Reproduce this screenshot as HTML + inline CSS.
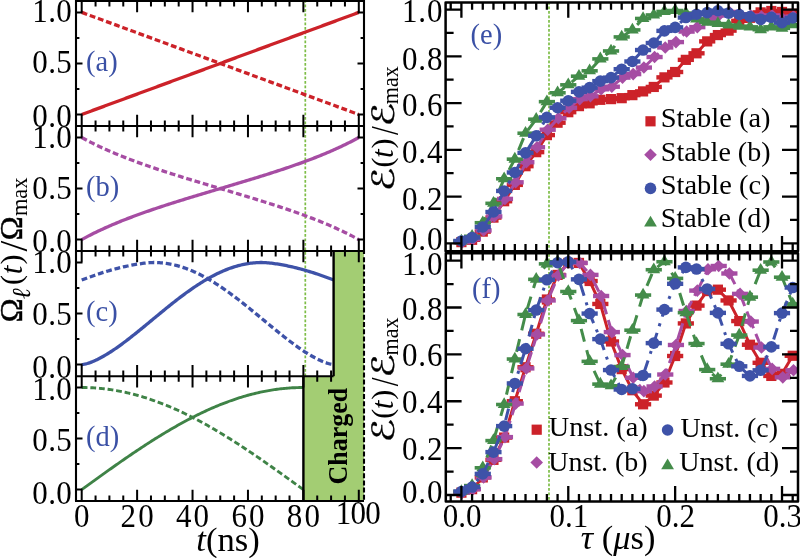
<!DOCTYPE html>
<html><head><meta charset="utf-8"><title>Charging figure</title>
<style>html,body{margin:0;padding:0;background:#fff}svg{display:block}svg text{font-family:"Liberation Serif",serif}</style>
</head><body>
<svg width="800" height="558" viewBox="0 0 800 558">
<rect width="800" height="558" fill="#fff"/>
<path d="M333.6,251.0 L364.0,251.0 L364.0,501.0 L303.4,501.0 L303.4,376.2 L333.6,376.2 Z" fill="#A3CD73"/>
<line x1="305.3" y1="0" x2="305.3" y2="376.2" stroke="#7DBD46" stroke-width="1.7" stroke-dasharray="2.8 1.7"/>
<path d="M81.70,114.50 L83.09,113.99 L84.47,113.48 L85.86,112.97 L87.24,112.46 L88.63,111.95 L90.01,111.44 L91.40,110.93 L92.78,110.42 L94.17,109.91 L95.56,109.39 L96.94,108.88 L98.33,108.37 L99.71,107.86 L101.10,107.35 L102.48,106.84 L103.87,106.33 L105.25,105.82 L106.64,105.31 L108.02,104.80 L109.41,104.29 L110.80,103.78 L112.18,103.27 L113.57,102.76 L114.95,102.25 L116.34,101.74 L117.72,101.23 L119.11,100.72 L120.49,100.21 L121.88,99.70 L123.27,99.19 L124.65,98.67 L126.04,98.16 L127.42,97.65 L128.81,97.14 L130.19,96.63 L131.58,96.12 L132.96,95.61 L134.35,95.10 L135.73,94.59 L137.12,94.08 L138.51,93.57 L139.89,93.06 L141.28,92.55 L142.66,92.04 L144.05,91.53 L145.43,91.02 L146.82,90.51 L148.20,90.00 L149.59,89.49 L150.97,88.97 L152.36,88.46 L153.75,87.95 L155.13,87.44 L156.52,86.93 L157.90,86.42 L159.29,85.91 L160.67,85.40 L162.06,84.89 L163.44,84.38 L164.83,83.87 L166.22,83.36 L167.60,82.85 L168.99,82.34 L170.37,81.83 L171.76,81.32 L173.14,80.81 L174.53,80.30 L175.91,79.79 L177.30,79.28 L178.69,78.77 L180.07,78.25 L181.46,77.74 L182.84,77.23 L184.23,76.72 L185.61,76.21 L187.00,75.70 L188.38,75.19 L189.77,74.68 L191.15,74.17 L192.54,73.66 L193.93,73.15 L195.31,72.64 L196.70,72.13 L198.08,71.62 L199.47,71.11 L200.85,70.60 L202.24,70.09 L203.62,69.58 L205.01,69.07 L206.39,68.56 L207.78,68.04 L209.17,67.53 L210.55,67.02 L211.94,66.51 L213.32,66.00 L214.71,65.49 L216.09,64.98 L217.48,64.47 L218.86,63.96 L220.25,63.45 L221.64,62.94 L223.02,62.43 L224.41,61.92 L225.79,61.41 L227.18,60.90 L228.56,60.39 L229.95,59.88 L231.33,59.37 L232.72,58.86 L234.11,58.34 L235.49,57.83 L236.88,57.32 L238.26,56.81 L239.65,56.30 L241.03,55.79 L242.42,55.28 L243.80,54.77 L245.19,54.26 L246.57,53.75 L247.96,53.24 L249.35,52.73 L250.73,52.22 L252.12,51.71 L253.50,51.20 L254.89,50.69 L256.27,50.18 L257.66,49.67 L259.04,49.16 L260.43,48.65 L261.81,48.13 L263.20,47.62 L264.59,47.11 L265.97,46.60 L267.36,46.09 L268.74,45.58 L270.13,45.07 L271.51,44.56 L272.90,44.05 L274.28,43.54 L275.67,43.03 L277.06,42.52 L278.44,42.01 L279.83,41.50 L281.21,40.99 L282.60,40.48 L283.98,39.97 L285.37,39.46 L286.75,38.95 L288.14,38.44 L289.52,37.92 L290.91,37.41 L292.30,36.90 L293.68,36.39 L295.07,35.88 L296.45,35.37 L297.84,34.86 L299.22,34.35 L300.61,33.84 L301.99,33.33 L303.38,32.82 L304.77,32.31 L306.15,31.80 L307.54,31.29 L308.92,30.78 L310.31,30.27 L311.69,29.76 L313.08,29.25 L314.46,28.74 L315.85,28.23 L317.24,27.72 L318.62,27.20 L320.01,26.69 L321.39,26.18 L322.78,25.67 L324.16,25.16 L325.55,24.65 L326.93,24.14 L328.32,23.63 L329.70,23.12 L331.09,22.61 L332.48,22.10 L333.86,21.59 L335.25,21.08 L336.63,20.57 L338.02,20.06 L339.40,19.55 L340.79,19.04 L342.17,18.53 L343.56,18.02 L344.94,17.51 L346.33,16.99 L347.72,16.48 L349.10,15.97 L350.49,15.46 L351.87,14.95 L353.26,14.44 L354.64,13.93 L356.03,13.42 L357.41,12.91 L358.80,12.40" fill="none" stroke="#CC2229" stroke-width="3.3" stroke-linejoin="round"/>
<path d="M81.70,12.40 L83.09,12.91 L84.47,13.42 L85.86,13.93 L87.24,14.44 L88.63,14.95 L90.01,15.46 L91.40,15.97 L92.78,16.48 L94.17,16.99 L95.56,17.51 L96.94,18.02 L98.33,18.53 L99.71,19.04 L101.10,19.55 L102.48,20.06 L103.87,20.57 L105.25,21.08 L106.64,21.59 L108.02,22.10 L109.41,22.61 L110.80,23.12 L112.18,23.63 L113.57,24.14 L114.95,24.65 L116.34,25.16 L117.72,25.67 L119.11,26.18 L120.49,26.69 L121.88,27.20 L123.27,27.72 L124.65,28.23 L126.04,28.74 L127.42,29.25 L128.81,29.76 L130.19,30.27 L131.58,30.78 L132.96,31.29 L134.35,31.80 L135.73,32.31 L137.12,32.82 L138.51,33.33 L139.89,33.84 L141.28,34.35 L142.66,34.86 L144.05,35.37 L145.43,35.88 L146.82,36.39 L148.20,36.90 L149.59,37.41 L150.97,37.92 L152.36,38.44 L153.75,38.95 L155.13,39.46 L156.52,39.97 L157.90,40.48 L159.29,40.99 L160.67,41.50 L162.06,42.01 L163.44,42.52 L164.83,43.03 L166.22,43.54 L167.60,44.05 L168.99,44.56 L170.37,45.07 L171.76,45.58 L173.14,46.09 L174.53,46.60 L175.91,47.11 L177.30,47.62 L178.69,48.13 L180.07,48.65 L181.46,49.16 L182.84,49.67 L184.23,50.18 L185.61,50.69 L187.00,51.20 L188.38,51.71 L189.77,52.22 L191.15,52.73 L192.54,53.24 L193.93,53.75 L195.31,54.26 L196.70,54.77 L198.08,55.28 L199.47,55.79 L200.85,56.30 L202.24,56.81 L203.62,57.32 L205.01,57.83 L206.39,58.34 L207.78,58.86 L209.17,59.37 L210.55,59.88 L211.94,60.39 L213.32,60.90 L214.71,61.41 L216.09,61.92 L217.48,62.43 L218.86,62.94 L220.25,63.45 L221.64,63.96 L223.02,64.47 L224.41,64.98 L225.79,65.49 L227.18,66.00 L228.56,66.51 L229.95,67.02 L231.33,67.53 L232.72,68.04 L234.11,68.56 L235.49,69.07 L236.88,69.58 L238.26,70.09 L239.65,70.60 L241.03,71.11 L242.42,71.62 L243.80,72.13 L245.19,72.64 L246.57,73.15 L247.96,73.66 L249.35,74.17 L250.73,74.68 L252.12,75.19 L253.50,75.70 L254.89,76.21 L256.27,76.72 L257.66,77.23 L259.04,77.74 L260.43,78.25 L261.81,78.77 L263.20,79.28 L264.59,79.79 L265.97,80.30 L267.36,80.81 L268.74,81.32 L270.13,81.83 L271.51,82.34 L272.90,82.85 L274.28,83.36 L275.67,83.87 L277.06,84.38 L278.44,84.89 L279.83,85.40 L281.21,85.91 L282.60,86.42 L283.98,86.93 L285.37,87.44 L286.75,87.95 L288.14,88.46 L289.52,88.97 L290.91,89.49 L292.30,90.00 L293.68,90.51 L295.07,91.02 L296.45,91.53 L297.84,92.04 L299.22,92.55 L300.61,93.06 L301.99,93.57 L303.38,94.08 L304.77,94.59 L306.15,95.10 L307.54,95.61 L308.92,96.12 L310.31,96.63 L311.69,97.14 L313.08,97.65 L314.46,98.16 L315.85,98.67 L317.24,99.19 L318.62,99.70 L320.01,100.21 L321.39,100.72 L322.78,101.23 L324.16,101.74 L325.55,102.25 L326.93,102.76 L328.32,103.27 L329.70,103.78 L331.09,104.29 L332.48,104.80 L333.86,105.31 L335.25,105.82 L336.63,106.33 L338.02,106.84 L339.40,107.35 L340.79,107.86 L342.17,108.37 L343.56,108.88 L344.94,109.39 L346.33,109.91 L347.72,110.42 L349.10,110.93 L350.49,111.44 L351.87,111.95 L353.26,112.46 L354.64,112.97 L356.03,113.48 L357.41,113.99 L358.80,114.50" fill="none" stroke="#CC2229" stroke-width="3.3" stroke-dasharray="5.8 2.85" stroke-linejoin="round"/>
<path d="M81.70,239.60 L83.09,238.84 L84.47,238.09 L85.86,237.34 L87.24,236.61 L88.63,235.89 L90.01,235.18 L91.40,234.47 L92.78,233.78 L94.17,233.09 L95.56,232.41 L96.94,231.74 L98.33,231.08 L99.71,230.42 L101.10,229.78 L102.48,229.14 L103.87,228.50 L105.25,227.88 L106.64,227.26 L108.02,226.65 L109.41,226.04 L110.80,225.44 L112.18,224.85 L113.57,224.26 L114.95,223.67 L116.34,223.10 L117.72,222.53 L119.11,221.96 L120.49,221.40 L121.88,220.84 L123.27,220.29 L124.65,219.74 L126.04,219.20 L127.42,218.66 L128.81,218.13 L130.19,217.60 L131.58,217.08 L132.96,216.56 L134.35,216.04 L135.73,215.53 L137.12,215.02 L138.51,214.52 L139.89,214.01 L141.28,213.52 L142.66,213.02 L144.05,212.53 L145.43,212.04 L146.82,211.56 L148.20,211.08 L149.59,210.60 L150.97,210.12 L152.36,209.65 L153.75,209.18 L155.13,208.71 L156.52,208.24 L157.90,207.78 L159.29,207.32 L160.67,206.86 L162.06,206.41 L163.44,205.95 L164.83,205.50 L166.22,205.05 L167.60,204.60 L168.99,204.16 L170.37,203.72 L171.76,203.27 L173.14,202.83 L174.53,202.40 L175.91,201.96 L177.30,201.53 L178.69,201.09 L180.07,200.66 L181.46,200.23 L182.84,199.80 L184.23,199.37 L185.61,198.95 L187.00,198.52 L188.38,198.10 L189.77,197.67 L191.15,197.25 L192.54,196.83 L193.93,196.41 L195.31,195.99 L196.70,195.57 L198.08,195.16 L199.47,194.74 L200.85,194.33 L202.24,193.91 L203.62,193.50 L205.01,193.08 L206.39,192.67 L207.78,192.25 L209.17,191.84 L210.55,191.43 L211.94,191.02 L213.32,190.61 L214.71,190.19 L216.09,189.78 L217.48,189.37 L218.86,188.96 L220.25,188.55 L221.64,188.14 L223.02,187.73 L224.41,187.32 L225.79,186.91 L227.18,186.49 L228.56,186.08 L229.95,185.67 L231.33,185.26 L232.72,184.85 L234.11,184.43 L235.49,184.02 L236.88,183.60 L238.26,183.19 L239.65,182.77 L241.03,182.36 L242.42,181.94 L243.80,181.53 L245.19,181.11 L246.57,180.69 L247.96,180.27 L249.35,179.85 L250.73,179.43 L252.12,179.00 L253.50,178.58 L254.89,178.15 L256.27,177.73 L257.66,177.30 L259.04,176.87 L260.43,176.44 L261.81,176.01 L263.20,175.57 L264.59,175.14 L265.97,174.70 L267.36,174.27 L268.74,173.83 L270.13,173.38 L271.51,172.94 L272.90,172.50 L274.28,172.05 L275.67,171.60 L277.06,171.15 L278.44,170.69 L279.83,170.24 L281.21,169.78 L282.60,169.32 L283.98,168.86 L285.37,168.39 L286.75,167.92 L288.14,167.45 L289.52,166.98 L290.91,166.50 L292.30,166.02 L293.68,165.54 L295.07,165.06 L296.45,164.57 L297.84,164.08 L299.22,163.58 L300.61,163.09 L301.99,162.58 L303.38,162.08 L304.77,161.57 L306.15,161.06 L307.54,160.54 L308.92,160.02 L310.31,159.50 L311.69,158.97 L313.08,158.44 L314.46,157.90 L315.85,157.36 L317.24,156.81 L318.62,156.26 L320.01,155.70 L321.39,155.14 L322.78,154.57 L324.16,154.00 L325.55,153.43 L326.93,152.84 L328.32,152.25 L329.70,151.66 L331.09,151.06 L332.48,150.45 L333.86,149.84 L335.25,149.22 L336.63,148.60 L338.02,147.96 L339.40,147.32 L340.79,146.68 L342.17,146.02 L343.56,145.36 L344.94,144.69 L346.33,144.01 L347.72,143.32 L349.10,142.63 L350.49,141.92 L351.87,141.21 L353.26,140.49 L354.64,139.76 L356.03,139.01 L357.41,138.26 L358.80,137.50" fill="none" stroke="#A64DA3" stroke-width="3.3" stroke-linejoin="round"/>
<path d="M81.70,137.50 L83.09,138.26 L84.47,139.01 L85.86,139.76 L87.24,140.49 L88.63,141.21 L90.01,141.92 L91.40,142.63 L92.78,143.32 L94.17,144.01 L95.56,144.69 L96.94,145.36 L98.33,146.02 L99.71,146.68 L101.10,147.32 L102.48,147.96 L103.87,148.60 L105.25,149.22 L106.64,149.84 L108.02,150.45 L109.41,151.06 L110.80,151.66 L112.18,152.25 L113.57,152.84 L114.95,153.43 L116.34,154.00 L117.72,154.57 L119.11,155.14 L120.49,155.70 L121.88,156.26 L123.27,156.81 L124.65,157.36 L126.04,157.90 L127.42,158.44 L128.81,158.97 L130.19,159.50 L131.58,160.02 L132.96,160.54 L134.35,161.06 L135.73,161.57 L137.12,162.08 L138.51,162.58 L139.89,163.09 L141.28,163.58 L142.66,164.08 L144.05,164.57 L145.43,165.06 L146.82,165.54 L148.20,166.02 L149.59,166.50 L150.97,166.98 L152.36,167.45 L153.75,167.92 L155.13,168.39 L156.52,168.86 L157.90,169.32 L159.29,169.78 L160.67,170.24 L162.06,170.69 L163.44,171.15 L164.83,171.60 L166.22,172.05 L167.60,172.50 L168.99,172.94 L170.37,173.38 L171.76,173.83 L173.14,174.27 L174.53,174.70 L175.91,175.14 L177.30,175.57 L178.69,176.01 L180.07,176.44 L181.46,176.87 L182.84,177.30 L184.23,177.73 L185.61,178.15 L187.00,178.58 L188.38,179.00 L189.77,179.43 L191.15,179.85 L192.54,180.27 L193.93,180.69 L195.31,181.11 L196.70,181.53 L198.08,181.94 L199.47,182.36 L200.85,182.77 L202.24,183.19 L203.62,183.60 L205.01,184.02 L206.39,184.43 L207.78,184.85 L209.17,185.26 L210.55,185.67 L211.94,186.08 L213.32,186.49 L214.71,186.91 L216.09,187.32 L217.48,187.73 L218.86,188.14 L220.25,188.55 L221.64,188.96 L223.02,189.37 L224.41,189.78 L225.79,190.19 L227.18,190.61 L228.56,191.02 L229.95,191.43 L231.33,191.84 L232.72,192.25 L234.11,192.67 L235.49,193.08 L236.88,193.50 L238.26,193.91 L239.65,194.33 L241.03,194.74 L242.42,195.16 L243.80,195.57 L245.19,195.99 L246.57,196.41 L247.96,196.83 L249.35,197.25 L250.73,197.67 L252.12,198.10 L253.50,198.52 L254.89,198.95 L256.27,199.37 L257.66,199.80 L259.04,200.23 L260.43,200.66 L261.81,201.09 L263.20,201.53 L264.59,201.96 L265.97,202.40 L267.36,202.83 L268.74,203.27 L270.13,203.72 L271.51,204.16 L272.90,204.60 L274.28,205.05 L275.67,205.50 L277.06,205.95 L278.44,206.41 L279.83,206.86 L281.21,207.32 L282.60,207.78 L283.98,208.24 L285.37,208.71 L286.75,209.18 L288.14,209.65 L289.52,210.12 L290.91,210.60 L292.30,211.08 L293.68,211.56 L295.07,212.04 L296.45,212.53 L297.84,213.02 L299.22,213.52 L300.61,214.01 L301.99,214.52 L303.38,215.02 L304.77,215.53 L306.15,216.04 L307.54,216.56 L308.92,217.08 L310.31,217.60 L311.69,218.13 L313.08,218.66 L314.46,219.20 L315.85,219.74 L317.24,220.29 L318.62,220.84 L320.01,221.40 L321.39,221.96 L322.78,222.53 L324.16,223.10 L325.55,223.67 L326.93,224.26 L328.32,224.85 L329.70,225.44 L331.09,226.04 L332.48,226.65 L333.86,227.26 L335.25,227.88 L336.63,228.50 L338.02,229.14 L339.40,229.78 L340.79,230.42 L342.17,231.08 L343.56,231.74 L344.94,232.41 L346.33,233.09 L347.72,233.78 L349.10,234.47 L350.49,235.18 L351.87,235.89 L353.26,236.61 L354.64,237.34 L356.03,238.09 L357.41,238.84 L358.80,239.60" fill="none" stroke="#A64DA3" stroke-width="3.3" stroke-dasharray="5.8 2.85" stroke-linejoin="round"/>
<path d="M81.70,364.60 L83.09,364.46 L84.47,364.22 L85.86,363.90 L87.24,363.52 L88.63,363.09 L90.01,362.61 L91.40,362.09 L92.78,361.54 L94.17,360.95 L95.56,360.33 L96.94,359.67 L98.33,358.99 L99.71,358.28 L101.10,357.55 L102.48,356.79 L103.87,356.00 L105.25,355.19 L106.64,354.37 L108.02,353.52 L109.41,352.65 L110.80,351.76 L112.18,350.85 L113.57,349.93 L114.95,348.99 L116.34,348.03 L117.72,347.06 L119.11,346.08 L120.49,345.08 L121.88,344.06 L123.27,343.04 L124.65,342.00 L126.04,340.96 L127.42,339.90 L128.81,338.83 L130.19,337.76 L131.58,336.67 L132.96,335.58 L134.35,334.48 L135.73,333.37 L137.12,332.25 L138.51,331.13 L139.89,330.01 L141.28,328.88 L142.66,327.75 L144.05,326.61 L145.43,325.47 L146.82,324.32 L148.20,323.18 L149.59,322.03 L150.97,320.89 L152.36,319.74 L153.75,318.59 L155.13,317.44 L156.52,316.30 L157.90,315.15 L159.29,314.01 L160.67,312.87 L162.06,311.73 L163.44,310.60 L164.83,309.47 L166.22,308.34 L167.60,307.22 L168.99,306.10 L170.37,304.99 L171.76,303.89 L173.14,302.79 L174.53,301.70 L175.91,300.62 L177.30,299.55 L178.69,298.48 L180.07,297.42 L181.46,296.38 L182.84,295.34 L184.23,294.31 L185.61,293.29 L187.00,292.28 L188.38,291.29 L189.77,290.30 L191.15,289.33 L192.54,288.37 L193.93,287.43 L195.31,286.49 L196.70,285.57 L198.08,284.66 L199.47,283.77 L200.85,282.89 L202.24,282.03 L203.62,281.18 L205.01,280.35 L206.39,279.53 L207.78,278.73 L209.17,277.94 L210.55,277.18 L211.94,276.42 L213.32,275.69 L214.71,274.97 L216.09,274.28 L217.48,273.60 L218.86,272.93 L220.25,272.29 L221.64,271.66 L223.02,271.06 L224.41,270.47 L225.79,269.90 L227.18,269.36 L228.56,268.83 L229.95,268.32 L231.33,267.83 L232.72,267.36 L234.11,266.92 L235.49,266.49 L236.88,266.09 L238.26,265.70 L239.65,265.34 L241.03,265.00 L242.42,264.68 L243.80,264.38 L245.19,264.10 L246.57,263.85 L247.96,263.61 L249.35,263.40 L250.73,263.21 L252.12,263.05 L253.50,262.90 L254.89,262.78 L256.27,262.68 L257.66,262.60 L259.04,262.54 L260.43,262.51 L261.81,262.50 L263.20,262.53 L264.59,262.60 L265.97,262.68 L267.36,262.79 L268.74,262.91 L270.13,263.05 L271.51,263.21 L272.90,263.38 L274.28,263.56 L275.67,263.76 L277.06,263.96 L278.44,264.18 L279.83,264.41 L281.21,264.65 L282.60,264.90 L283.98,265.16 L285.37,265.44 L286.75,265.72 L288.14,266.01 L289.52,266.31 L290.91,266.62 L292.30,266.93 L293.68,267.26 L295.07,267.60 L296.45,267.94 L297.84,268.29 L299.22,268.65 L300.61,269.02 L301.99,269.40 L303.38,269.78 L304.77,270.18 L306.15,270.58 L307.54,270.98 L308.92,271.40 L310.31,271.82 L311.69,272.25 L313.08,272.69 L314.46,273.13 L315.85,273.58 L317.24,274.04 L318.62,274.51 L320.01,274.98 L321.39,275.46 L322.78,275.94 L324.16,276.43 L325.55,276.93 L326.93,277.44 L328.32,277.95 L329.70,278.47 L331.09,278.99 L332.48,279.52 L333.86,280.06" fill="none" stroke="#3E52A8" stroke-width="3.3" stroke-linejoin="round"/>
<path d="M81.70,280.06 L83.09,279.52 L84.47,278.99 L85.86,278.47 L87.24,277.95 L88.63,277.44 L90.01,276.93 L91.40,276.43 L92.78,275.94 L94.17,275.46 L95.56,274.98 L96.94,274.51 L98.33,274.04 L99.71,273.58 L101.10,273.13 L102.48,272.69 L103.87,272.25 L105.25,271.82 L106.64,271.40 L108.02,270.98 L109.41,270.58 L110.80,270.18 L112.18,269.78 L113.57,269.40 L114.95,269.02 L116.34,268.65 L117.72,268.29 L119.11,267.94 L120.49,267.60 L121.88,267.26 L123.27,266.93 L124.65,266.62 L126.04,266.31 L127.42,266.01 L128.81,265.72 L130.19,265.44 L131.58,265.16 L132.96,264.90 L134.35,264.65 L135.73,264.41 L137.12,264.18 L138.51,263.96 L139.89,263.76 L141.28,263.56 L142.66,263.38 L144.05,263.21 L145.43,263.05 L146.82,262.91 L148.20,262.79 L149.59,262.68 L150.97,262.60 L152.36,262.53 L153.75,262.50 L155.13,262.51 L156.52,262.54 L157.90,262.60 L159.29,262.68 L160.67,262.78 L162.06,262.90 L163.44,263.05 L164.83,263.21 L166.22,263.40 L167.60,263.61 L168.99,263.85 L170.37,264.10 L171.76,264.38 L173.14,264.68 L174.53,265.00 L175.91,265.34 L177.30,265.70 L178.69,266.09 L180.07,266.49 L181.46,266.92 L182.84,267.36 L184.23,267.83 L185.61,268.32 L187.00,268.83 L188.38,269.36 L189.77,269.90 L191.15,270.47 L192.54,271.06 L193.93,271.66 L195.31,272.29 L196.70,272.93 L198.08,273.60 L199.47,274.28 L200.85,274.97 L202.24,275.69 L203.62,276.42 L205.01,277.18 L206.39,277.94 L207.78,278.73 L209.17,279.53 L210.55,280.35 L211.94,281.18 L213.32,282.03 L214.71,282.89 L216.09,283.77 L217.48,284.66 L218.86,285.57 L220.25,286.49 L221.64,287.43 L223.02,288.37 L224.41,289.33 L225.79,290.30 L227.18,291.29 L228.56,292.28 L229.95,293.29 L231.33,294.31 L232.72,295.34 L234.11,296.38 L235.49,297.42 L236.88,298.48 L238.26,299.55 L239.65,300.62 L241.03,301.70 L242.42,302.79 L243.80,303.89 L245.19,304.99 L246.57,306.10 L247.96,307.22 L249.35,308.34 L250.73,309.47 L252.12,310.60 L253.50,311.73 L254.89,312.87 L256.27,314.01 L257.66,315.15 L259.04,316.30 L260.43,317.44 L261.81,318.59 L263.20,319.74 L264.59,320.89 L265.97,322.03 L267.36,323.18 L268.74,324.32 L270.13,325.47 L271.51,326.61 L272.90,327.75 L274.28,328.88 L275.67,330.01 L277.06,331.13 L278.44,332.25 L279.83,333.37 L281.21,334.48 L282.60,335.58 L283.98,336.67 L285.37,337.76 L286.75,338.83 L288.14,339.90 L289.52,340.96 L290.91,342.00 L292.30,343.04 L293.68,344.06 L295.07,345.08 L296.45,346.08 L297.84,347.06 L299.22,348.03 L300.61,348.99 L301.99,349.93 L303.38,350.85 L304.77,351.76 L306.15,352.65 L307.54,353.52 L308.92,354.37 L310.31,355.19 L311.69,356.00 L313.08,356.79 L314.46,357.55 L315.85,358.28 L317.24,358.99 L318.62,359.67 L320.01,360.33 L321.39,360.95 L322.78,361.54 L324.16,362.09 L325.55,362.61 L326.93,363.09 L328.32,363.52 L329.70,363.90 L331.09,364.22 L332.48,364.46 L333.86,364.60" fill="none" stroke="#3E52A8" stroke-width="3.3" stroke-dasharray="5.8 2.85" stroke-linejoin="round"/>
<path d="M81.70,489.60 L83.09,488.60 L84.47,487.60 L85.86,486.59 L87.24,485.59 L88.63,484.59 L90.01,483.59 L91.40,482.59 L92.78,481.59 L94.17,480.59 L95.56,479.59 L96.94,478.60 L98.33,477.60 L99.71,476.60 L101.10,475.61 L102.48,474.62 L103.87,473.63 L105.25,472.64 L106.64,471.65 L108.02,470.67 L109.41,469.68 L110.80,468.70 L112.18,467.72 L113.57,466.74 L114.95,465.77 L116.34,464.79 L117.72,463.82 L119.11,462.85 L120.49,461.89 L121.88,460.92 L123.27,459.96 L124.65,459.00 L126.04,458.05 L127.42,457.10 L128.81,456.15 L130.19,455.20 L131.58,454.26 L132.96,453.32 L134.35,452.39 L135.73,451.46 L137.12,450.53 L138.51,449.60 L139.89,448.68 L141.28,447.77 L142.66,446.85 L144.05,445.95 L145.43,445.04 L146.82,444.14 L148.20,443.25 L149.59,442.36 L150.97,441.47 L152.36,440.59 L153.75,439.71 L155.13,438.84 L156.52,437.97 L157.90,437.11 L159.29,436.25 L160.67,435.40 L162.06,434.55 L163.44,433.71 L164.83,432.88 L166.22,432.05 L167.60,431.22 L168.99,430.40 L170.37,429.59 L171.76,428.78 L173.14,427.98 L174.53,427.18 L175.91,426.39 L177.30,425.61 L178.69,424.83 L180.07,424.06 L181.46,423.29 L182.84,422.53 L184.23,421.78 L185.61,421.03 L187.00,420.29 L188.38,419.56 L189.77,418.84 L191.15,418.12 L192.54,417.40 L193.93,416.70 L195.31,416.00 L196.70,415.31 L198.08,414.63 L199.47,413.95 L200.85,413.28 L202.24,412.62 L203.62,411.96 L205.01,411.32 L206.39,410.68 L207.78,410.04 L209.17,409.42 L210.55,408.80 L211.94,408.19 L213.32,407.59 L214.71,407.00 L216.09,406.41 L217.48,405.84 L218.86,405.27 L220.25,404.71 L221.64,404.15 L223.02,403.61 L224.41,403.07 L225.79,402.55 L227.18,402.03 L228.56,401.51 L229.95,401.01 L231.33,400.52 L232.72,400.03 L234.11,399.56 L235.49,399.09 L236.88,398.63 L238.26,398.18 L239.65,397.74 L241.03,397.30 L242.42,396.88 L243.80,396.46 L245.19,396.06 L246.57,395.66 L247.96,395.27 L249.35,394.89 L250.73,394.52 L252.12,394.16 L253.50,393.81 L254.89,393.47 L256.27,393.14 L257.66,392.81 L259.04,392.50 L260.43,392.19 L261.81,391.90 L263.20,391.61 L264.59,391.33 L265.97,391.07 L267.36,390.81 L268.74,390.56 L270.13,390.32 L271.51,390.09 L272.90,389.87 L274.28,389.66 L275.67,389.46 L277.06,389.27 L278.44,389.09 L279.83,388.92 L281.21,388.76 L282.60,388.61 L283.98,388.46 L285.37,388.33 L286.75,388.21 L288.14,388.09 L289.52,387.99 L290.91,387.90 L292.30,387.81 L293.68,387.74 L295.07,387.68 L296.45,387.62 L297.84,387.58 L299.22,387.54 L300.61,387.52 L301.99,387.50 L303.38,387.50" fill="none" stroke="#3F8347" stroke-width="2.9" stroke-linejoin="round"/>
<path d="M81.70,387.50 L83.09,387.50 L84.47,387.52 L85.86,387.54 L87.24,387.58 L88.63,387.62 L90.01,387.68 L91.40,387.74 L92.78,387.81 L94.17,387.90 L95.56,387.99 L96.94,388.09 L98.33,388.21 L99.71,388.33 L101.10,388.46 L102.48,388.61 L103.87,388.76 L105.25,388.92 L106.64,389.09 L108.02,389.27 L109.41,389.46 L110.80,389.66 L112.18,389.87 L113.57,390.09 L114.95,390.32 L116.34,390.56 L117.72,390.81 L119.11,391.07 L120.49,391.33 L121.88,391.61 L123.27,391.90 L124.65,392.19 L126.04,392.50 L127.42,392.81 L128.81,393.14 L130.19,393.47 L131.58,393.81 L132.96,394.16 L134.35,394.52 L135.73,394.89 L137.12,395.27 L138.51,395.66 L139.89,396.06 L141.28,396.46 L142.66,396.88 L144.05,397.30 L145.43,397.74 L146.82,398.18 L148.20,398.63 L149.59,399.09 L150.97,399.56 L152.36,400.03 L153.75,400.52 L155.13,401.01 L156.52,401.51 L157.90,402.03 L159.29,402.55 L160.67,403.07 L162.06,403.61 L163.44,404.15 L164.83,404.71 L166.22,405.27 L167.60,405.84 L168.99,406.41 L170.37,407.00 L171.76,407.59 L173.14,408.19 L174.53,408.80 L175.91,409.42 L177.30,410.04 L178.69,410.68 L180.07,411.32 L181.46,411.96 L182.84,412.62 L184.23,413.28 L185.61,413.95 L187.00,414.63 L188.38,415.31 L189.77,416.00 L191.15,416.70 L192.54,417.40 L193.93,418.12 L195.31,418.84 L196.70,419.56 L198.08,420.29 L199.47,421.03 L200.85,421.78 L202.24,422.53 L203.62,423.29 L205.01,424.06 L206.39,424.83 L207.78,425.61 L209.17,426.39 L210.55,427.18 L211.94,427.98 L213.32,428.78 L214.71,429.59 L216.09,430.40 L217.48,431.22 L218.86,432.05 L220.25,432.88 L221.64,433.71 L223.02,434.55 L224.41,435.40 L225.79,436.25 L227.18,437.11 L228.56,437.97 L229.95,438.84 L231.33,439.71 L232.72,440.59 L234.11,441.47 L235.49,442.36 L236.88,443.25 L238.26,444.14 L239.65,445.04 L241.03,445.95 L242.42,446.85 L243.80,447.77 L245.19,448.68 L246.57,449.60 L247.96,450.53 L249.35,451.46 L250.73,452.39 L252.12,453.32 L253.50,454.26 L254.89,455.20 L256.27,456.15 L257.66,457.10 L259.04,458.05 L260.43,459.00 L261.81,459.96 L263.20,460.92 L264.59,461.89 L265.97,462.85 L267.36,463.82 L268.74,464.79 L270.13,465.77 L271.51,466.74 L272.90,467.72 L274.28,468.70 L275.67,469.68 L277.06,470.67 L278.44,471.65 L279.83,472.64 L281.21,473.63 L282.60,474.62 L283.98,475.61 L285.37,476.60 L286.75,477.60 L288.14,478.60 L289.52,479.59 L290.91,480.59 L292.30,481.59 L293.68,482.59 L295.07,483.59 L296.45,484.59 L297.84,485.59 L299.22,486.59 L300.61,487.60 L301.99,488.60 L303.38,489.60" fill="none" stroke="#3F8347" stroke-width="2.9" stroke-dasharray="5.8 2.85" stroke-linejoin="round"/>
<path d="M76.0,501.0 L76.0,1.0 L364.0,1.0 L364.0,254.0" stroke="#000" stroke-width="2.1" fill="none"/>
<path d="M76.0,126.0 L364.0,126.0" stroke="#000" stroke-width="2.1" fill="none"/>
<path d="M76.0,251.0 L364.0,251.0" stroke="#000" stroke-width="2.1" fill="none"/>
<path d="M76.0,376.2 L333.6,376.2" stroke="#000" stroke-width="2.1" fill="none"/>
<path d="M75.0,501.0 L364.0,501.0" stroke="#000" stroke-width="2.1" fill="none"/>
<path d="M364.0,257.2 L364.0,501.0" stroke="#000" stroke-width="2.1" fill="none" stroke-dasharray="5 2.2"/>
<path d="M333.6,251.0 L333.6,376.2" stroke="#000" stroke-width="2.4" fill="none"/>
<path d="M303.4,376.2 L303.4,501.0" stroke="#000" stroke-width="2.4" fill="none"/>
<path d="M81.70,1.00 L81.70,12.30 M95.56,1.00 L95.56,6.60 M109.41,1.00 L109.41,6.60 M123.27,1.00 L123.27,6.60 M137.12,1.00 L137.12,12.30 M150.97,1.00 L150.97,6.60 M164.83,1.00 L164.83,6.60 M178.69,1.00 L178.69,6.60 M192.54,1.00 L192.54,12.30 M206.39,1.00 L206.39,6.60 M220.25,1.00 L220.25,6.60 M234.11,1.00 L234.11,6.60 M247.96,1.00 L247.96,12.30 M261.81,1.00 L261.81,6.60 M275.67,1.00 L275.67,6.60 M289.52,1.00 L289.52,6.60 M303.38,1.00 L303.38,12.30 M317.24,1.00 L317.24,6.60 M331.09,1.00 L331.09,6.60 M344.94,1.00 L344.94,6.60 M358.80,1.00 L358.80,12.30 M81.70,114.70 L81.70,137.30 M95.56,120.40 L95.56,131.60 M109.41,120.40 L109.41,131.60 M123.27,120.40 L123.27,131.60 M137.12,114.70 L137.12,137.30 M150.97,120.40 L150.97,131.60 M164.83,120.40 L164.83,131.60 M178.69,120.40 L178.69,131.60 M192.54,114.70 L192.54,137.30 M206.39,120.40 L206.39,131.60 M220.25,120.40 L220.25,131.60 M234.11,120.40 L234.11,131.60 M247.96,114.70 L247.96,137.30 M261.81,120.40 L261.81,131.60 M275.67,120.40 L275.67,131.60 M289.52,120.40 L289.52,131.60 M303.38,114.70 L303.38,137.30 M317.24,120.40 L317.24,131.60 M331.09,120.40 L331.09,131.60 M344.94,120.40 L344.94,131.60 M358.80,114.70 L358.80,137.30 M81.70,239.70 L81.70,262.30 M95.56,245.40 L95.56,256.60 M109.41,245.40 L109.41,256.60 M123.27,245.40 L123.27,256.60 M137.12,239.70 L137.12,262.30 M150.97,245.40 L150.97,256.60 M164.83,245.40 L164.83,256.60 M178.69,245.40 L178.69,256.60 M192.54,239.70 L192.54,262.30 M206.39,245.40 L206.39,256.60 M220.25,245.40 L220.25,256.60 M234.11,245.40 L234.11,256.60 M247.96,239.70 L247.96,262.30 M261.81,245.40 L261.81,256.60 M275.67,245.40 L275.67,256.60 M289.52,245.40 L289.52,256.60 M303.38,239.70 L303.38,262.30 M317.24,245.40 L317.24,256.60 M331.09,245.40 L331.09,256.60 M344.94,245.40 L344.94,256.60 M358.80,239.70 L358.80,262.30 M81.70,364.90 L81.70,387.50 M95.56,370.60 L95.56,381.80 M109.41,370.60 L109.41,381.80 M123.27,370.60 L123.27,381.80 M137.12,364.90 L137.12,387.50 M150.97,370.60 L150.97,381.80 M164.83,370.60 L164.83,381.80 M178.69,370.60 L178.69,381.80 M192.54,364.90 L192.54,387.50 M206.39,370.60 L206.39,381.80 M220.25,370.60 L220.25,381.80 M234.11,370.60 L234.11,381.80 M247.96,364.90 L247.96,387.50 M261.81,370.60 L261.81,381.80 M275.67,370.60 L275.67,381.80 M289.52,370.60 L289.52,381.80 M303.38,364.90 L303.38,387.50 M317.24,370.60 L317.24,381.80 M331.09,370.60 L331.09,381.80 M81.70,489.70 L81.70,501.00 M95.56,495.40 L95.56,501.00 M109.41,495.40 L109.41,501.00 M123.27,495.40 L123.27,501.00 M137.12,489.70 L137.12,501.00 M150.97,495.40 L150.97,501.00 M164.83,495.40 L164.83,501.00 M178.69,495.40 L178.69,501.00 M192.54,489.70 L192.54,501.00 M206.39,495.40 L206.39,501.00 M220.25,495.40 L220.25,501.00 M234.11,495.40 L234.11,501.00 M247.96,489.70 L247.96,501.00 M261.81,495.40 L261.81,501.00 M275.67,495.40 L275.67,501.00 M289.52,495.40 L289.52,501.00 M303.38,489.70 L303.38,501.00 M317.24,495.40 L317.24,501.00 M331.09,495.40 L331.09,501.00 M344.94,495.40 L344.94,501.00 M358.80,489.70 L358.80,501.00 M76.0,114.50 L82.5,114.50 M364.0,114.50 L357.5,114.50 M76.0,88.97 L79.4,88.97 M364.0,88.97 L360.6,88.97 M76.0,63.45 L82.5,63.45 M364.0,63.45 L357.5,63.45 M76.0,37.92 L79.4,37.92 M364.0,37.92 L360.6,37.92 M76.0,12.40 L82.5,12.40 M364.0,12.40 L357.5,12.40 M76.0,239.60 L82.5,239.60 M364.0,239.60 L357.5,239.60 M76.0,214.07 L79.4,214.07 M364.0,214.07 L360.6,214.07 M76.0,188.55 L82.5,188.55 M364.0,188.55 L357.5,188.55 M76.0,163.03 L79.4,163.03 M364.0,163.03 L360.6,163.03 M76.0,137.50 L82.5,137.50 M364.0,137.50 L357.5,137.50 M76.0,364.60 L82.5,364.60 M76.0,339.07 L79.4,339.07 M76.0,313.55 L82.5,313.55 M76.0,288.02 L79.4,288.02 M76.0,262.50 L82.5,262.50 M76.0,489.60 L82.5,489.60 M76.0,464.07 L79.4,464.07 M76.0,438.55 L82.5,438.55 M76.0,413.02 L79.4,413.02 M76.0,387.50 L82.5,387.50" stroke="#000" stroke-width="2" fill="none"/>
<line x1="549" y1="2" x2="549" y2="501.4" stroke="#7DBD46" stroke-width="1.7" stroke-dasharray="2.8 1.7"/>
<defs><clipPath id="ce"><rect x="445.6" y="0" width="352.4" height="251.2"/></clipPath><clipPath id="cf"><rect x="445.6" y="253.2" width="352.4" height="248.2"/></clipPath></defs>
<g clip-path="url(#ce)">
<path d="M461.40,242.13 L472.09,239.79 L482.77,231.62 L493.46,217.59 L504.15,201.23 L514.84,184.88 L525.52,166.18 L536.21,152.16 L546.90,135.10 L557.58,122.71 L568.27,112.19 L578.96,106.12 L589.64,103.31 L600.33,99.81 L611.02,99.11 L621.70,98.17 L632.39,95.13 L643.08,91.40 L653.77,86.95 L664.45,77.37 L675.14,72.00 L685.83,59.85 L696.51,53.30 L707.20,41.38 L717.89,35.07 L728.58,30.63 L739.26,20.82 L749.95,17.78 L760.64,12.40 L771.32,11.00 L782.01,11.94 L792.70,13.81" fill="none" stroke="#CC2229" stroke-width="3" stroke-linejoin="round"/>
<rect x="453.30" y="239.93" width="16.2" height="4.4" fill="#CC2229"/><rect x="456.30" y="237.03" width="10.2" height="10.2" fill="#CC2229"/><rect x="463.99" y="237.59" width="16.2" height="4.4" fill="#CC2229"/><rect x="466.99" y="234.69" width="10.2" height="10.2" fill="#CC2229"/><rect x="474.67" y="229.42" width="16.2" height="4.4" fill="#CC2229"/><rect x="477.67" y="226.52" width="10.2" height="10.2" fill="#CC2229"/><rect x="485.36" y="215.39" width="16.2" height="4.4" fill="#CC2229"/><rect x="488.36" y="212.49" width="10.2" height="10.2" fill="#CC2229"/><rect x="496.05" y="199.03" width="16.2" height="4.4" fill="#CC2229"/><rect x="499.05" y="196.13" width="10.2" height="10.2" fill="#CC2229"/><rect x="506.74" y="182.68" width="16.2" height="4.4" fill="#CC2229"/><rect x="509.74" y="179.78" width="10.2" height="10.2" fill="#CC2229"/><rect x="517.42" y="163.98" width="16.2" height="4.4" fill="#CC2229"/><rect x="520.42" y="161.08" width="10.2" height="10.2" fill="#CC2229"/><rect x="528.11" y="149.96" width="16.2" height="4.4" fill="#CC2229"/><rect x="531.11" y="147.06" width="10.2" height="10.2" fill="#CC2229"/><rect x="538.80" y="132.90" width="16.2" height="4.4" fill="#CC2229"/><rect x="541.80" y="130.00" width="10.2" height="10.2" fill="#CC2229"/><rect x="549.48" y="120.51" width="16.2" height="4.4" fill="#CC2229"/><rect x="552.48" y="117.61" width="10.2" height="10.2" fill="#CC2229"/><rect x="560.17" y="109.99" width="16.2" height="4.4" fill="#CC2229"/><rect x="563.17" y="107.09" width="10.2" height="10.2" fill="#CC2229"/><rect x="570.86" y="103.92" width="16.2" height="4.4" fill="#CC2229"/><rect x="573.86" y="101.02" width="10.2" height="10.2" fill="#CC2229"/><rect x="581.54" y="101.11" width="16.2" height="4.4" fill="#CC2229"/><rect x="584.54" y="98.21" width="10.2" height="10.2" fill="#CC2229"/><rect x="592.23" y="97.61" width="16.2" height="4.4" fill="#CC2229"/><rect x="595.23" y="94.71" width="10.2" height="10.2" fill="#CC2229"/><rect x="602.92" y="96.91" width="16.2" height="4.4" fill="#CC2229"/><rect x="605.92" y="94.01" width="10.2" height="10.2" fill="#CC2229"/><rect x="613.60" y="95.97" width="16.2" height="4.4" fill="#CC2229"/><rect x="616.60" y="93.07" width="10.2" height="10.2" fill="#CC2229"/><rect x="624.29" y="92.93" width="16.2" height="4.4" fill="#CC2229"/><rect x="627.29" y="90.03" width="10.2" height="10.2" fill="#CC2229"/><rect x="634.98" y="89.20" width="16.2" height="4.4" fill="#CC2229"/><rect x="637.98" y="86.30" width="10.2" height="10.2" fill="#CC2229"/><rect x="645.67" y="84.75" width="16.2" height="4.4" fill="#CC2229"/><rect x="648.67" y="81.85" width="10.2" height="10.2" fill="#CC2229"/><rect x="656.35" y="75.17" width="16.2" height="4.4" fill="#CC2229"/><rect x="659.35" y="72.27" width="10.2" height="10.2" fill="#CC2229"/><rect x="667.04" y="69.80" width="16.2" height="4.4" fill="#CC2229"/><rect x="670.04" y="66.90" width="10.2" height="10.2" fill="#CC2229"/><rect x="677.73" y="57.65" width="16.2" height="4.4" fill="#CC2229"/><rect x="680.73" y="54.75" width="10.2" height="10.2" fill="#CC2229"/><rect x="688.41" y="51.10" width="16.2" height="4.4" fill="#CC2229"/><rect x="691.41" y="48.20" width="10.2" height="10.2" fill="#CC2229"/><rect x="699.10" y="39.18" width="16.2" height="4.4" fill="#CC2229"/><rect x="702.10" y="36.28" width="10.2" height="10.2" fill="#CC2229"/><rect x="709.79" y="32.87" width="16.2" height="4.4" fill="#CC2229"/><rect x="712.79" y="29.97" width="10.2" height="10.2" fill="#CC2229"/><rect x="720.48" y="28.43" width="16.2" height="4.4" fill="#CC2229"/><rect x="723.48" y="25.53" width="10.2" height="10.2" fill="#CC2229"/><rect x="731.16" y="18.62" width="16.2" height="4.4" fill="#CC2229"/><rect x="734.16" y="15.72" width="10.2" height="10.2" fill="#CC2229"/><rect x="741.85" y="15.58" width="16.2" height="4.4" fill="#CC2229"/><rect x="744.85" y="12.68" width="10.2" height="10.2" fill="#CC2229"/><rect x="752.54" y="10.20" width="16.2" height="4.4" fill="#CC2229"/><rect x="755.54" y="7.30" width="10.2" height="10.2" fill="#CC2229"/><rect x="763.22" y="8.80" width="16.2" height="4.4" fill="#CC2229"/><rect x="766.22" y="5.90" width="10.2" height="10.2" fill="#CC2229"/><rect x="773.91" y="9.74" width="16.2" height="4.4" fill="#CC2229"/><rect x="776.91" y="6.84" width="10.2" height="10.2" fill="#CC2229"/><rect x="784.60" y="11.61" width="16.2" height="4.4" fill="#CC2229"/><rect x="787.60" y="8.71" width="10.2" height="10.2" fill="#CC2229"/>
<path d="M462.20,242.13 L472.89,239.09 L483.57,230.45 L494.26,216.42 L504.95,198.90 L515.63,182.30 L526.32,162.21 L537.01,147.25 L547.70,129.72 L558.38,118.27 L569.07,107.75 L579.76,99.11 L590.44,96.30 L601.13,89.29 L611.82,86.72 L622.50,77.61 L633.19,74.10 L643.88,67.56 L654.57,57.04 L665.25,47.46 L675.94,42.08 L686.63,31.57 L697.31,27.13 L708.00,19.42 L718.69,15.44 L729.38,11.94 L740.06,14.27 L750.75,15.44 L761.44,16.61 L772.12,15.44 L782.81,18.95 L793.50,16.61" fill="none" stroke="#A64DA3" stroke-width="3" stroke-dasharray="18 6" stroke-linejoin="round"/>
<rect x="454.10" y="239.93" width="16.2" height="4.4" fill="#A64DA3"/><path d="M462.20,235.83 L468.50,242.13 L462.20,248.43 L455.90,242.13 Z" fill="#A64DA3"/><rect x="464.79" y="236.89" width="16.2" height="4.4" fill="#A64DA3"/><path d="M472.89,232.79 L479.19,239.09 L472.89,245.39 L466.59,239.09 Z" fill="#A64DA3"/><rect x="475.47" y="228.25" width="16.2" height="4.4" fill="#A64DA3"/><path d="M483.57,224.15 L489.87,230.45 L483.57,236.75 L477.27,230.45 Z" fill="#A64DA3"/><rect x="486.16" y="214.22" width="16.2" height="4.4" fill="#A64DA3"/><path d="M494.26,210.12 L500.56,216.42 L494.26,222.72 L487.96,216.42 Z" fill="#A64DA3"/><rect x="496.85" y="196.70" width="16.2" height="4.4" fill="#A64DA3"/><path d="M504.95,192.60 L511.25,198.90 L504.95,205.20 L498.65,198.90 Z" fill="#A64DA3"/><rect x="507.53" y="180.10" width="16.2" height="4.4" fill="#A64DA3"/><path d="M515.63,176.00 L521.93,182.30 L515.63,188.60 L509.33,182.30 Z" fill="#A64DA3"/><rect x="518.22" y="160.01" width="16.2" height="4.4" fill="#A64DA3"/><path d="M526.32,155.91 L532.62,162.21 L526.32,168.51 L520.02,162.21 Z" fill="#A64DA3"/><rect x="528.91" y="145.05" width="16.2" height="4.4" fill="#A64DA3"/><path d="M537.01,140.95 L543.31,147.25 L537.01,153.55 L530.71,147.25 Z" fill="#A64DA3"/><rect x="539.60" y="127.52" width="16.2" height="4.4" fill="#A64DA3"/><path d="M547.70,123.42 L554.00,129.72 L547.70,136.02 L541.40,129.72 Z" fill="#A64DA3"/><rect x="550.28" y="116.07" width="16.2" height="4.4" fill="#A64DA3"/><path d="M558.38,111.97 L564.68,118.27 L558.38,124.57 L552.08,118.27 Z" fill="#A64DA3"/><rect x="560.97" y="105.55" width="16.2" height="4.4" fill="#A64DA3"/><path d="M569.07,101.45 L575.37,107.75 L569.07,114.05 L562.77,107.75 Z" fill="#A64DA3"/><rect x="571.66" y="96.91" width="16.2" height="4.4" fill="#A64DA3"/><path d="M579.76,92.81 L586.06,99.11 L579.76,105.41 L573.46,99.11 Z" fill="#A64DA3"/><rect x="582.34" y="94.10" width="16.2" height="4.4" fill="#A64DA3"/><path d="M590.44,90.00 L596.74,96.30 L590.44,102.60 L584.14,96.30 Z" fill="#A64DA3"/><rect x="593.03" y="87.09" width="16.2" height="4.4" fill="#A64DA3"/><path d="M601.13,82.99 L607.43,89.29 L601.13,95.59 L594.83,89.29 Z" fill="#A64DA3"/><rect x="603.72" y="84.52" width="16.2" height="4.4" fill="#A64DA3"/><path d="M611.82,80.42 L618.12,86.72 L611.82,93.02 L605.52,86.72 Z" fill="#A64DA3"/><rect x="614.40" y="75.41" width="16.2" height="4.4" fill="#A64DA3"/><path d="M622.50,71.31 L628.80,77.61 L622.50,83.91 L616.20,77.61 Z" fill="#A64DA3"/><rect x="625.09" y="71.90" width="16.2" height="4.4" fill="#A64DA3"/><path d="M633.19,67.80 L639.49,74.10 L633.19,80.40 L626.89,74.10 Z" fill="#A64DA3"/><rect x="635.78" y="65.36" width="16.2" height="4.4" fill="#A64DA3"/><path d="M643.88,61.26 L650.18,67.56 L643.88,73.86 L637.58,67.56 Z" fill="#A64DA3"/><rect x="646.47" y="54.84" width="16.2" height="4.4" fill="#A64DA3"/><path d="M654.57,50.74 L660.87,57.04 L654.57,63.34 L648.27,57.04 Z" fill="#A64DA3"/><rect x="657.15" y="45.26" width="16.2" height="4.4" fill="#A64DA3"/><path d="M665.25,41.16 L671.55,47.46 L665.25,53.76 L658.95,47.46 Z" fill="#A64DA3"/><rect x="667.84" y="39.88" width="16.2" height="4.4" fill="#A64DA3"/><path d="M675.94,35.78 L682.24,42.08 L675.94,48.38 L669.64,42.08 Z" fill="#A64DA3"/><rect x="678.53" y="29.37" width="16.2" height="4.4" fill="#A64DA3"/><path d="M686.63,25.27 L692.93,31.57 L686.63,37.87 L680.33,31.57 Z" fill="#A64DA3"/><rect x="689.21" y="24.93" width="16.2" height="4.4" fill="#A64DA3"/><path d="M697.31,20.83 L703.61,27.13 L697.31,33.43 L691.01,27.13 Z" fill="#A64DA3"/><rect x="699.90" y="17.22" width="16.2" height="4.4" fill="#A64DA3"/><path d="M708.00,13.12 L714.30,19.42 L708.00,25.72 L701.70,19.42 Z" fill="#A64DA3"/><rect x="710.59" y="13.24" width="16.2" height="4.4" fill="#A64DA3"/><path d="M718.69,9.14 L724.99,15.44 L718.69,21.74 L712.39,15.44 Z" fill="#A64DA3"/><rect x="721.27" y="9.74" width="16.2" height="4.4" fill="#A64DA3"/><path d="M729.38,5.64 L735.67,11.94 L729.38,18.24 L723.08,11.94 Z" fill="#A64DA3"/><rect x="731.96" y="12.07" width="16.2" height="4.4" fill="#A64DA3"/><path d="M740.06,7.97 L746.36,14.27 L740.06,20.57 L733.76,14.27 Z" fill="#A64DA3"/><rect x="742.65" y="13.24" width="16.2" height="4.4" fill="#A64DA3"/><path d="M750.75,9.14 L757.05,15.44 L750.75,21.74 L744.45,15.44 Z" fill="#A64DA3"/><rect x="753.34" y="14.41" width="16.2" height="4.4" fill="#A64DA3"/><path d="M761.44,10.31 L767.74,16.61 L761.44,22.91 L755.14,16.61 Z" fill="#A64DA3"/><rect x="764.02" y="13.24" width="16.2" height="4.4" fill="#A64DA3"/><path d="M772.12,9.14 L778.42,15.44 L772.12,21.74 L765.82,15.44 Z" fill="#A64DA3"/><rect x="774.71" y="16.75" width="16.2" height="4.4" fill="#A64DA3"/><path d="M782.81,12.65 L789.11,18.95 L782.81,25.25 L776.51,18.95 Z" fill="#A64DA3"/><rect x="785.40" y="14.41" width="16.2" height="4.4" fill="#A64DA3"/><path d="M793.50,10.31 L799.80,16.61 L793.50,22.91 L787.20,16.61 Z" fill="#A64DA3"/>
<path d="M461.40,240.96 L472.09,236.29 L482.77,222.73 L493.46,203.34 L504.15,178.80 L514.84,159.17 L525.52,133.23 L536.21,119.21 L546.90,101.68 L557.58,92.80 L568.27,84.85 L578.96,76.20 L589.64,70.83 L600.33,58.91 L611.02,50.96 L621.70,36.94 L632.39,29.93 L643.08,18.48 L653.77,14.98 L664.45,11.47 L675.14,10.53 L685.83,13.11 L696.51,18.95 L707.20,22.22 L717.89,23.62 L728.58,25.02 L739.26,26.19 L749.95,26.89 L760.64,29.70 L771.32,26.89 L782.01,28.30 L792.70,24.79" fill="none" stroke="#448C4A" stroke-width="3" stroke-dasharray="13 9" stroke-linejoin="round"/>
<rect x="453.30" y="239.16" width="16.2" height="3.6" fill="#448C4A"/><path d="M461.40,233.66 L467.80,244.46 L455.00,244.46 Z" fill="#448C4A"/><rect x="463.99" y="234.49" width="16.2" height="3.6" fill="#448C4A"/><path d="M472.09,228.99 L478.49,239.79 L465.69,239.79 Z" fill="#448C4A"/><rect x="474.67" y="220.93" width="16.2" height="3.6" fill="#448C4A"/><path d="M482.77,215.43 L489.17,226.23 L476.37,226.23 Z" fill="#448C4A"/><rect x="485.36" y="201.54" width="16.2" height="3.6" fill="#448C4A"/><path d="M493.46,196.04 L499.86,206.84 L487.06,206.84 Z" fill="#448C4A"/><rect x="496.05" y="177.00" width="16.2" height="3.6" fill="#448C4A"/><path d="M504.15,171.50 L510.55,182.30 L497.75,182.30 Z" fill="#448C4A"/><rect x="506.74" y="157.37" width="16.2" height="3.6" fill="#448C4A"/><path d="M514.84,151.87 L521.24,162.67 L508.44,162.67 Z" fill="#448C4A"/><rect x="517.42" y="131.43" width="16.2" height="3.6" fill="#448C4A"/><path d="M525.52,125.93 L531.92,136.73 L519.12,136.73 Z" fill="#448C4A"/><rect x="528.11" y="117.41" width="16.2" height="3.6" fill="#448C4A"/><path d="M536.21,111.91 L542.61,122.71 L529.81,122.71 Z" fill="#448C4A"/><rect x="538.80" y="99.88" width="16.2" height="3.6" fill="#448C4A"/><path d="M546.90,94.38 L553.30,105.18 L540.50,105.18 Z" fill="#448C4A"/><rect x="549.48" y="91.00" width="16.2" height="3.6" fill="#448C4A"/><path d="M557.58,85.50 L563.98,96.30 L551.18,96.30 Z" fill="#448C4A"/><rect x="560.17" y="83.05" width="16.2" height="3.6" fill="#448C4A"/><path d="M568.27,77.55 L574.67,88.35 L561.87,88.35 Z" fill="#448C4A"/><rect x="570.86" y="74.40" width="16.2" height="3.6" fill="#448C4A"/><path d="M578.96,68.90 L585.36,79.70 L572.56,79.70 Z" fill="#448C4A"/><rect x="581.54" y="69.03" width="16.2" height="3.6" fill="#448C4A"/><path d="M589.64,63.53 L596.04,74.33 L583.24,74.33 Z" fill="#448C4A"/><rect x="592.23" y="57.11" width="16.2" height="3.6" fill="#448C4A"/><path d="M600.33,51.61 L606.73,62.41 L593.93,62.41 Z" fill="#448C4A"/><rect x="602.92" y="49.16" width="16.2" height="3.6" fill="#448C4A"/><path d="M611.02,43.66 L617.42,54.46 L604.62,54.46 Z" fill="#448C4A"/><rect x="613.60" y="35.14" width="16.2" height="3.6" fill="#448C4A"/><path d="M621.70,29.64 L628.10,40.44 L615.30,40.44 Z" fill="#448C4A"/><rect x="624.29" y="28.13" width="16.2" height="3.6" fill="#448C4A"/><path d="M632.39,22.63 L638.79,33.43 L625.99,33.43 Z" fill="#448C4A"/><rect x="634.98" y="16.68" width="16.2" height="3.6" fill="#448C4A"/><path d="M643.08,11.18 L649.48,21.98 L636.68,21.98 Z" fill="#448C4A"/><rect x="645.67" y="13.18" width="16.2" height="3.6" fill="#448C4A"/><path d="M653.77,7.68 L660.17,18.48 L647.37,18.48 Z" fill="#448C4A"/><rect x="656.35" y="9.67" width="16.2" height="3.6" fill="#448C4A"/><path d="M664.45,4.17 L670.85,14.97 L658.05,14.97 Z" fill="#448C4A"/><rect x="667.04" y="8.73" width="16.2" height="3.6" fill="#448C4A"/><path d="M675.14,3.23 L681.54,14.03 L668.74,14.03 Z" fill="#448C4A"/><rect x="677.73" y="11.31" width="16.2" height="3.6" fill="#448C4A"/><path d="M685.83,5.81 L692.23,16.61 L679.43,16.61 Z" fill="#448C4A"/><rect x="688.41" y="17.15" width="16.2" height="3.6" fill="#448C4A"/><path d="M696.51,11.65 L702.91,22.45 L690.11,22.45 Z" fill="#448C4A"/><rect x="699.10" y="20.42" width="16.2" height="3.6" fill="#448C4A"/><path d="M707.20,14.92 L713.60,25.72 L700.80,25.72 Z" fill="#448C4A"/><rect x="709.79" y="21.82" width="16.2" height="3.6" fill="#448C4A"/><path d="M717.89,16.32 L724.29,27.12 L711.49,27.12 Z" fill="#448C4A"/><rect x="720.48" y="23.22" width="16.2" height="3.6" fill="#448C4A"/><path d="M728.58,17.72 L734.98,28.52 L722.18,28.52 Z" fill="#448C4A"/><rect x="731.16" y="24.39" width="16.2" height="3.6" fill="#448C4A"/><path d="M739.26,18.89 L745.66,29.69 L732.86,29.69 Z" fill="#448C4A"/><rect x="741.85" y="25.09" width="16.2" height="3.6" fill="#448C4A"/><path d="M749.95,19.59 L756.35,30.39 L743.55,30.39 Z" fill="#448C4A"/><rect x="752.54" y="27.90" width="16.2" height="3.6" fill="#448C4A"/><path d="M760.64,22.40 L767.04,33.20 L754.24,33.20 Z" fill="#448C4A"/><rect x="763.22" y="25.09" width="16.2" height="3.6" fill="#448C4A"/><path d="M771.32,19.59 L777.72,30.39 L764.92,30.39 Z" fill="#448C4A"/><rect x="773.91" y="26.50" width="16.2" height="3.6" fill="#448C4A"/><path d="M782.01,21.00 L788.41,31.80 L775.61,31.80 Z" fill="#448C4A"/><rect x="784.60" y="22.99" width="16.2" height="3.6" fill="#448C4A"/><path d="M792.70,17.49 L799.10,28.29 L786.30,28.29 Z" fill="#448C4A"/>
<path d="M461.40,240.96 L472.09,237.46 L482.77,226.94 L493.46,211.98 L504.15,190.95 L514.84,172.49 L525.52,152.86 L536.21,135.80 L546.90,117.34 L557.58,107.75 L568.27,100.74 L578.96,91.86 L589.64,87.66 L600.33,81.11 L611.02,77.61 L621.70,69.19 L632.39,61.48 L643.08,50.03 L653.77,43.02 L664.45,30.87 L675.14,27.36 L685.83,17.55 L696.51,14.27 L707.20,12.64 L717.89,10.77 L728.58,13.11 L739.26,14.51 L749.95,16.61 L760.64,19.42 L771.32,17.31 L782.01,22.69 L792.70,18.01" fill="none" stroke="#3E52A8" stroke-width="3" stroke-dasharray="12 7 3 7" stroke-linejoin="round"/>
<rect x="453.30" y="238.76" width="16.2" height="4.4" fill="#3E52A8"/><circle cx="461.40" cy="240.96" r="5.8" fill="#3E52A8"/><rect x="463.99" y="235.26" width="16.2" height="4.4" fill="#3E52A8"/><circle cx="472.09" cy="237.46" r="5.8" fill="#3E52A8"/><rect x="474.67" y="224.74" width="16.2" height="4.4" fill="#3E52A8"/><circle cx="482.77" cy="226.94" r="5.8" fill="#3E52A8"/><rect x="485.36" y="209.78" width="16.2" height="4.4" fill="#3E52A8"/><circle cx="493.46" cy="211.98" r="5.8" fill="#3E52A8"/><rect x="496.05" y="188.75" width="16.2" height="4.4" fill="#3E52A8"/><circle cx="504.15" cy="190.95" r="5.8" fill="#3E52A8"/><rect x="506.74" y="170.29" width="16.2" height="4.4" fill="#3E52A8"/><circle cx="514.84" cy="172.49" r="5.8" fill="#3E52A8"/><rect x="517.42" y="150.66" width="16.2" height="4.4" fill="#3E52A8"/><circle cx="525.52" cy="152.86" r="5.8" fill="#3E52A8"/><rect x="528.11" y="133.60" width="16.2" height="4.4" fill="#3E52A8"/><circle cx="536.21" cy="135.80" r="5.8" fill="#3E52A8"/><rect x="538.80" y="115.14" width="16.2" height="4.4" fill="#3E52A8"/><circle cx="546.90" cy="117.34" r="5.8" fill="#3E52A8"/><rect x="549.48" y="105.55" width="16.2" height="4.4" fill="#3E52A8"/><circle cx="557.58" cy="107.75" r="5.8" fill="#3E52A8"/><rect x="560.17" y="98.54" width="16.2" height="4.4" fill="#3E52A8"/><circle cx="568.27" cy="100.74" r="5.8" fill="#3E52A8"/><rect x="570.86" y="89.66" width="16.2" height="4.4" fill="#3E52A8"/><circle cx="578.96" cy="91.86" r="5.8" fill="#3E52A8"/><rect x="581.54" y="85.46" width="16.2" height="4.4" fill="#3E52A8"/><circle cx="589.64" cy="87.66" r="5.8" fill="#3E52A8"/><rect x="592.23" y="78.91" width="16.2" height="4.4" fill="#3E52A8"/><circle cx="600.33" cy="81.11" r="5.8" fill="#3E52A8"/><rect x="602.92" y="75.41" width="16.2" height="4.4" fill="#3E52A8"/><circle cx="611.02" cy="77.61" r="5.8" fill="#3E52A8"/><rect x="613.60" y="66.99" width="16.2" height="4.4" fill="#3E52A8"/><circle cx="621.70" cy="69.19" r="5.8" fill="#3E52A8"/><rect x="624.29" y="59.28" width="16.2" height="4.4" fill="#3E52A8"/><circle cx="632.39" cy="61.48" r="5.8" fill="#3E52A8"/><rect x="634.98" y="47.83" width="16.2" height="4.4" fill="#3E52A8"/><circle cx="643.08" cy="50.03" r="5.8" fill="#3E52A8"/><rect x="645.67" y="40.82" width="16.2" height="4.4" fill="#3E52A8"/><circle cx="653.77" cy="43.02" r="5.8" fill="#3E52A8"/><rect x="656.35" y="28.67" width="16.2" height="4.4" fill="#3E52A8"/><circle cx="664.45" cy="30.87" r="5.8" fill="#3E52A8"/><rect x="667.04" y="25.16" width="16.2" height="4.4" fill="#3E52A8"/><circle cx="675.14" cy="27.36" r="5.8" fill="#3E52A8"/><rect x="677.73" y="15.35" width="16.2" height="4.4" fill="#3E52A8"/><circle cx="685.83" cy="17.55" r="5.8" fill="#3E52A8"/><rect x="688.41" y="12.07" width="16.2" height="4.4" fill="#3E52A8"/><circle cx="696.51" cy="14.27" r="5.8" fill="#3E52A8"/><rect x="699.10" y="10.44" width="16.2" height="4.4" fill="#3E52A8"/><circle cx="707.20" cy="12.64" r="5.8" fill="#3E52A8"/><rect x="709.79" y="8.57" width="16.2" height="4.4" fill="#3E52A8"/><circle cx="717.89" cy="10.77" r="5.8" fill="#3E52A8"/><rect x="720.48" y="10.91" width="16.2" height="4.4" fill="#3E52A8"/><circle cx="728.58" cy="13.11" r="5.8" fill="#3E52A8"/><rect x="731.16" y="12.31" width="16.2" height="4.4" fill="#3E52A8"/><circle cx="739.26" cy="14.51" r="5.8" fill="#3E52A8"/><rect x="741.85" y="14.41" width="16.2" height="4.4" fill="#3E52A8"/><circle cx="749.95" cy="16.61" r="5.8" fill="#3E52A8"/><rect x="752.54" y="17.22" width="16.2" height="4.4" fill="#3E52A8"/><circle cx="760.64" cy="19.42" r="5.8" fill="#3E52A8"/><rect x="763.22" y="15.11" width="16.2" height="4.4" fill="#3E52A8"/><circle cx="771.32" cy="17.31" r="5.8" fill="#3E52A8"/><rect x="773.91" y="20.49" width="16.2" height="4.4" fill="#3E52A8"/><circle cx="782.01" cy="22.69" r="5.8" fill="#3E52A8"/><rect x="784.60" y="15.81" width="16.2" height="4.4" fill="#3E52A8"/><circle cx="792.70" cy="18.01" r="5.8" fill="#3E52A8"/>
</g>
<g clip-path="url(#cf)">
<path d="M461.40,492.66 L472.09,489.14 L482.77,477.42 L493.46,459.84 L504.15,437.57 L514.84,401.24 L525.52,367.25 L536.21,333.73 L546.90,299.51 L557.58,274.90 L568.27,262.94 L578.96,262.94 L589.64,280.99 L600.33,303.96 L611.02,341.47 L621.70,369.13 L632.39,390.22 L643.08,404.29 L653.77,395.61 L664.45,382.49 L675.14,356.00 L685.83,323.42 L696.51,305.60 L707.20,291.07 L717.89,289.67 L728.58,300.45 L739.26,321.08 L749.95,344.75 L760.64,362.80 L771.32,375.92 L782.01,373.82 L792.70,355.77" fill="none" stroke="#CC2229" stroke-width="3" stroke-linejoin="round"/>
<rect x="453.30" y="490.46" width="16.2" height="4.4" fill="#CC2229"/><rect x="456.30" y="487.56" width="10.2" height="10.2" fill="#CC2229"/><rect x="463.99" y="486.94" width="16.2" height="4.4" fill="#CC2229"/><rect x="466.99" y="484.04" width="10.2" height="10.2" fill="#CC2229"/><rect x="474.67" y="475.22" width="16.2" height="4.4" fill="#CC2229"/><rect x="477.67" y="472.32" width="10.2" height="10.2" fill="#CC2229"/><rect x="485.36" y="457.64" width="16.2" height="4.4" fill="#CC2229"/><rect x="488.36" y="454.74" width="10.2" height="10.2" fill="#CC2229"/><rect x="496.05" y="435.37" width="16.2" height="4.4" fill="#CC2229"/><rect x="499.05" y="432.47" width="10.2" height="10.2" fill="#CC2229"/><rect x="506.74" y="399.04" width="16.2" height="4.4" fill="#CC2229"/><rect x="509.74" y="396.14" width="10.2" height="10.2" fill="#CC2229"/><rect x="517.42" y="365.05" width="16.2" height="4.4" fill="#CC2229"/><rect x="520.42" y="362.15" width="10.2" height="10.2" fill="#CC2229"/><rect x="528.11" y="331.53" width="16.2" height="4.4" fill="#CC2229"/><rect x="531.11" y="328.63" width="10.2" height="10.2" fill="#CC2229"/><rect x="538.80" y="297.31" width="16.2" height="4.4" fill="#CC2229"/><rect x="541.80" y="294.41" width="10.2" height="10.2" fill="#CC2229"/><rect x="549.48" y="272.70" width="16.2" height="4.4" fill="#CC2229"/><rect x="552.48" y="269.80" width="10.2" height="10.2" fill="#CC2229"/><rect x="560.17" y="260.74" width="16.2" height="4.4" fill="#CC2229"/><rect x="563.17" y="257.84" width="10.2" height="10.2" fill="#CC2229"/><rect x="570.86" y="260.74" width="16.2" height="4.4" fill="#CC2229"/><rect x="573.86" y="257.84" width="10.2" height="10.2" fill="#CC2229"/><rect x="581.54" y="278.79" width="16.2" height="4.4" fill="#CC2229"/><rect x="584.54" y="275.89" width="10.2" height="10.2" fill="#CC2229"/><rect x="592.23" y="301.76" width="16.2" height="4.4" fill="#CC2229"/><rect x="595.23" y="298.86" width="10.2" height="10.2" fill="#CC2229"/><rect x="602.92" y="339.27" width="16.2" height="4.4" fill="#CC2229"/><rect x="605.92" y="336.37" width="10.2" height="10.2" fill="#CC2229"/><rect x="613.60" y="366.93" width="16.2" height="4.4" fill="#CC2229"/><rect x="616.60" y="364.03" width="10.2" height="10.2" fill="#CC2229"/><rect x="624.29" y="388.02" width="16.2" height="4.4" fill="#CC2229"/><rect x="627.29" y="385.12" width="10.2" height="10.2" fill="#CC2229"/><rect x="634.98" y="402.09" width="16.2" height="4.4" fill="#CC2229"/><rect x="637.98" y="399.19" width="10.2" height="10.2" fill="#CC2229"/><rect x="645.67" y="393.41" width="16.2" height="4.4" fill="#CC2229"/><rect x="648.67" y="390.51" width="10.2" height="10.2" fill="#CC2229"/><rect x="656.35" y="380.29" width="16.2" height="4.4" fill="#CC2229"/><rect x="659.35" y="377.39" width="10.2" height="10.2" fill="#CC2229"/><rect x="667.04" y="353.80" width="16.2" height="4.4" fill="#CC2229"/><rect x="670.04" y="350.90" width="10.2" height="10.2" fill="#CC2229"/><rect x="677.73" y="321.22" width="16.2" height="4.4" fill="#CC2229"/><rect x="680.73" y="318.32" width="10.2" height="10.2" fill="#CC2229"/><rect x="688.41" y="303.40" width="16.2" height="4.4" fill="#CC2229"/><rect x="691.41" y="300.50" width="10.2" height="10.2" fill="#CC2229"/><rect x="699.10" y="288.87" width="16.2" height="4.4" fill="#CC2229"/><rect x="702.10" y="285.97" width="10.2" height="10.2" fill="#CC2229"/><rect x="709.79" y="287.47" width="16.2" height="4.4" fill="#CC2229"/><rect x="712.79" y="284.57" width="10.2" height="10.2" fill="#CC2229"/><rect x="720.48" y="298.25" width="16.2" height="4.4" fill="#CC2229"/><rect x="723.48" y="295.35" width="10.2" height="10.2" fill="#CC2229"/><rect x="731.16" y="318.88" width="16.2" height="4.4" fill="#CC2229"/><rect x="734.16" y="315.98" width="10.2" height="10.2" fill="#CC2229"/><rect x="741.85" y="342.55" width="16.2" height="4.4" fill="#CC2229"/><rect x="744.85" y="339.65" width="10.2" height="10.2" fill="#CC2229"/><rect x="752.54" y="360.60" width="16.2" height="4.4" fill="#CC2229"/><rect x="755.54" y="357.70" width="10.2" height="10.2" fill="#CC2229"/><rect x="763.22" y="373.72" width="16.2" height="4.4" fill="#CC2229"/><rect x="766.22" y="370.82" width="10.2" height="10.2" fill="#CC2229"/><rect x="773.91" y="371.62" width="16.2" height="4.4" fill="#CC2229"/><rect x="776.91" y="368.72" width="10.2" height="10.2" fill="#CC2229"/><rect x="784.60" y="353.57" width="16.2" height="4.4" fill="#CC2229"/><rect x="787.60" y="350.67" width="10.2" height="10.2" fill="#CC2229"/>
<path d="M462.20,492.66 L472.89,489.14 L483.57,477.42 L494.26,459.14 L504.95,437.10 L515.63,403.58 L526.32,368.42 L537.01,334.44 L547.70,300.45 L558.38,275.37 L569.07,261.77 L579.76,262.94 L590.44,274.90 L601.13,295.99 L611.82,332.09 L622.50,355.06 L633.19,377.80 L643.88,391.16 L654.57,386.47 L665.25,374.52 L675.94,344.98 L686.63,311.00 L697.31,290.60 L708.00,269.27 L718.69,265.99 L729.38,273.49 L740.06,293.88 L750.75,321.54 L761.44,347.56 L772.12,368.89 L782.81,377.33 L793.50,370.30" fill="none" stroke="#A64DA3" stroke-width="3" stroke-dasharray="18 6" stroke-linejoin="round"/>
<rect x="454.10" y="490.46" width="16.2" height="4.4" fill="#A64DA3"/><path d="M462.20,486.36 L468.50,492.66 L462.20,498.96 L455.90,492.66 Z" fill="#A64DA3"/><rect x="464.79" y="486.94" width="16.2" height="4.4" fill="#A64DA3"/><path d="M472.89,482.84 L479.19,489.14 L472.89,495.44 L466.59,489.14 Z" fill="#A64DA3"/><rect x="475.47" y="475.22" width="16.2" height="4.4" fill="#A64DA3"/><path d="M483.57,471.12 L489.87,477.42 L483.57,483.72 L477.27,477.42 Z" fill="#A64DA3"/><rect x="486.16" y="456.94" width="16.2" height="4.4" fill="#A64DA3"/><path d="M494.26,452.84 L500.56,459.14 L494.26,465.44 L487.96,459.14 Z" fill="#A64DA3"/><rect x="496.85" y="434.90" width="16.2" height="4.4" fill="#A64DA3"/><path d="M504.95,430.80 L511.25,437.10 L504.95,443.40 L498.65,437.10 Z" fill="#A64DA3"/><rect x="507.53" y="401.38" width="16.2" height="4.4" fill="#A64DA3"/><path d="M515.63,397.28 L521.93,403.58 L515.63,409.88 L509.33,403.58 Z" fill="#A64DA3"/><rect x="518.22" y="366.22" width="16.2" height="4.4" fill="#A64DA3"/><path d="M526.32,362.12 L532.62,368.42 L526.32,374.72 L520.02,368.42 Z" fill="#A64DA3"/><rect x="528.91" y="332.24" width="16.2" height="4.4" fill="#A64DA3"/><path d="M537.01,328.14 L543.31,334.44 L537.01,340.74 L530.71,334.44 Z" fill="#A64DA3"/><rect x="539.60" y="298.25" width="16.2" height="4.4" fill="#A64DA3"/><path d="M547.70,294.15 L554.00,300.45 L547.70,306.75 L541.40,300.45 Z" fill="#A64DA3"/><rect x="550.28" y="273.17" width="16.2" height="4.4" fill="#A64DA3"/><path d="M558.38,269.07 L564.68,275.37 L558.38,281.67 L552.08,275.37 Z" fill="#A64DA3"/><rect x="560.97" y="259.57" width="16.2" height="4.4" fill="#A64DA3"/><path d="M569.07,255.47 L575.37,261.77 L569.07,268.07 L562.77,261.77 Z" fill="#A64DA3"/><rect x="571.66" y="260.74" width="16.2" height="4.4" fill="#A64DA3"/><path d="M579.76,256.64 L586.06,262.94 L579.76,269.24 L573.46,262.94 Z" fill="#A64DA3"/><rect x="582.34" y="272.70" width="16.2" height="4.4" fill="#A64DA3"/><path d="M590.44,268.60 L596.74,274.90 L590.44,281.20 L584.14,274.90 Z" fill="#A64DA3"/><rect x="593.03" y="293.79" width="16.2" height="4.4" fill="#A64DA3"/><path d="M601.13,289.69 L607.43,295.99 L601.13,302.29 L594.83,295.99 Z" fill="#A64DA3"/><rect x="603.72" y="329.89" width="16.2" height="4.4" fill="#A64DA3"/><path d="M611.82,325.79 L618.12,332.09 L611.82,338.39 L605.52,332.09 Z" fill="#A64DA3"/><rect x="614.40" y="352.86" width="16.2" height="4.4" fill="#A64DA3"/><path d="M622.50,348.76 L628.80,355.06 L622.50,361.36 L616.20,355.06 Z" fill="#A64DA3"/><rect x="625.09" y="375.60" width="16.2" height="4.4" fill="#A64DA3"/><path d="M633.19,371.50 L639.49,377.80 L633.19,384.10 L626.89,377.80 Z" fill="#A64DA3"/><rect x="635.78" y="388.96" width="16.2" height="4.4" fill="#A64DA3"/><path d="M643.88,384.86 L650.18,391.16 L643.88,397.46 L637.58,391.16 Z" fill="#A64DA3"/><rect x="646.47" y="384.27" width="16.2" height="4.4" fill="#A64DA3"/><path d="M654.57,380.17 L660.87,386.47 L654.57,392.77 L648.27,386.47 Z" fill="#A64DA3"/><rect x="657.15" y="372.32" width="16.2" height="4.4" fill="#A64DA3"/><path d="M665.25,368.22 L671.55,374.52 L665.25,380.82 L658.95,374.52 Z" fill="#A64DA3"/><rect x="667.84" y="342.78" width="16.2" height="4.4" fill="#A64DA3"/><path d="M675.94,338.68 L682.24,344.98 L675.94,351.28 L669.64,344.98 Z" fill="#A64DA3"/><rect x="678.53" y="308.80" width="16.2" height="4.4" fill="#A64DA3"/><path d="M686.63,304.70 L692.93,311.00 L686.63,317.30 L680.33,311.00 Z" fill="#A64DA3"/><rect x="689.21" y="288.40" width="16.2" height="4.4" fill="#A64DA3"/><path d="M697.31,284.30 L703.61,290.60 L697.31,296.90 L691.01,290.60 Z" fill="#A64DA3"/><rect x="699.90" y="267.07" width="16.2" height="4.4" fill="#A64DA3"/><path d="M708.00,262.97 L714.30,269.27 L708.00,275.57 L701.70,269.27 Z" fill="#A64DA3"/><rect x="710.59" y="263.79" width="16.2" height="4.4" fill="#A64DA3"/><path d="M718.69,259.69 L724.99,265.99 L718.69,272.29 L712.39,265.99 Z" fill="#A64DA3"/><rect x="721.27" y="271.29" width="16.2" height="4.4" fill="#A64DA3"/><path d="M729.38,267.19 L735.67,273.49 L729.38,279.79 L723.08,273.49 Z" fill="#A64DA3"/><rect x="731.96" y="291.68" width="16.2" height="4.4" fill="#A64DA3"/><path d="M740.06,287.58 L746.36,293.88 L740.06,300.18 L733.76,293.88 Z" fill="#A64DA3"/><rect x="742.65" y="319.34" width="16.2" height="4.4" fill="#A64DA3"/><path d="M750.75,315.24 L757.05,321.54 L750.75,327.84 L744.45,321.54 Z" fill="#A64DA3"/><rect x="753.34" y="345.36" width="16.2" height="4.4" fill="#A64DA3"/><path d="M761.44,341.26 L767.74,347.56 L761.44,353.86 L755.14,347.56 Z" fill="#A64DA3"/><rect x="764.02" y="366.69" width="16.2" height="4.4" fill="#A64DA3"/><path d="M772.12,362.59 L778.42,368.89 L772.12,375.19 L765.82,368.89 Z" fill="#A64DA3"/><rect x="774.71" y="375.13" width="16.2" height="4.4" fill="#A64DA3"/><path d="M782.81,371.03 L789.11,377.33 L782.81,383.63 L776.51,377.33 Z" fill="#A64DA3"/><rect x="785.40" y="368.10" width="16.2" height="4.4" fill="#A64DA3"/><path d="M793.50,364.00 L799.80,370.30 L793.50,376.60 L787.20,370.30 Z" fill="#A64DA3"/>
<path d="M461.40,491.48 L472.09,485.62 L482.77,467.81 L493.46,440.62 L504.15,404.52 L514.84,359.05 L525.52,314.51 L536.21,279.35 L546.90,263.88 L557.58,261.77 L568.27,291.54 L578.96,320.61 L589.64,361.39 L600.33,384.13 L611.02,385.77 L621.70,366.55 L632.39,330.22 L643.08,295.06 L653.77,269.74 L664.45,261.77 L675.14,278.41 L685.83,312.64 L696.51,343.58 L707.20,369.60 L717.89,378.74 L728.58,364.20 L739.26,335.14 L749.95,297.17 L760.64,270.21 L771.32,262.01 L782.01,277.24 L792.70,303.96" fill="none" stroke="#448C4A" stroke-width="3" stroke-dasharray="13 9" stroke-linejoin="round"/>
<rect x="453.30" y="489.68" width="16.2" height="3.6" fill="#448C4A"/><path d="M461.40,484.18 L467.80,494.98 L455.00,494.98 Z" fill="#448C4A"/><rect x="463.99" y="483.82" width="16.2" height="3.6" fill="#448C4A"/><path d="M472.09,478.32 L478.49,489.12 L465.69,489.12 Z" fill="#448C4A"/><rect x="474.67" y="466.01" width="16.2" height="3.6" fill="#448C4A"/><path d="M482.77,460.51 L489.17,471.31 L476.37,471.31 Z" fill="#448C4A"/><rect x="485.36" y="438.82" width="16.2" height="3.6" fill="#448C4A"/><path d="M493.46,433.32 L499.86,444.12 L487.06,444.12 Z" fill="#448C4A"/><rect x="496.05" y="402.72" width="16.2" height="3.6" fill="#448C4A"/><path d="M504.15,397.22 L510.55,408.02 L497.75,408.02 Z" fill="#448C4A"/><rect x="506.74" y="357.25" width="16.2" height="3.6" fill="#448C4A"/><path d="M514.84,351.75 L521.24,362.55 L508.44,362.55 Z" fill="#448C4A"/><rect x="517.42" y="312.71" width="16.2" height="3.6" fill="#448C4A"/><path d="M525.52,307.21 L531.92,318.01 L519.12,318.01 Z" fill="#448C4A"/><rect x="528.11" y="277.55" width="16.2" height="3.6" fill="#448C4A"/><path d="M536.21,272.05 L542.61,282.85 L529.81,282.85 Z" fill="#448C4A"/><rect x="538.80" y="262.08" width="16.2" height="3.6" fill="#448C4A"/><path d="M546.90,256.58 L553.30,267.38 L540.50,267.38 Z" fill="#448C4A"/><rect x="549.48" y="259.97" width="16.2" height="3.6" fill="#448C4A"/><path d="M557.58,254.47 L563.98,265.27 L551.18,265.27 Z" fill="#448C4A"/><rect x="560.17" y="289.74" width="16.2" height="3.6" fill="#448C4A"/><path d="M568.27,284.24 L574.67,295.04 L561.87,295.04 Z" fill="#448C4A"/><rect x="570.86" y="318.81" width="16.2" height="3.6" fill="#448C4A"/><path d="M578.96,313.31 L585.36,324.11 L572.56,324.11 Z" fill="#448C4A"/><rect x="581.54" y="359.59" width="16.2" height="3.6" fill="#448C4A"/><path d="M589.64,354.09 L596.04,364.89 L583.24,364.89 Z" fill="#448C4A"/><rect x="592.23" y="382.33" width="16.2" height="3.6" fill="#448C4A"/><path d="M600.33,376.83 L606.73,387.63 L593.93,387.63 Z" fill="#448C4A"/><rect x="602.92" y="383.97" width="16.2" height="3.6" fill="#448C4A"/><path d="M611.02,378.47 L617.42,389.27 L604.62,389.27 Z" fill="#448C4A"/><rect x="613.60" y="364.75" width="16.2" height="3.6" fill="#448C4A"/><path d="M621.70,359.25 L628.10,370.05 L615.30,370.05 Z" fill="#448C4A"/><rect x="624.29" y="328.42" width="16.2" height="3.6" fill="#448C4A"/><path d="M632.39,322.92 L638.79,333.72 L625.99,333.72 Z" fill="#448C4A"/><rect x="634.98" y="293.26" width="16.2" height="3.6" fill="#448C4A"/><path d="M643.08,287.76 L649.48,298.56 L636.68,298.56 Z" fill="#448C4A"/><rect x="645.67" y="267.94" width="16.2" height="3.6" fill="#448C4A"/><path d="M653.77,262.44 L660.17,273.24 L647.37,273.24 Z" fill="#448C4A"/><rect x="656.35" y="259.97" width="16.2" height="3.6" fill="#448C4A"/><path d="M664.45,254.47 L670.85,265.27 L658.05,265.27 Z" fill="#448C4A"/><rect x="667.04" y="276.61" width="16.2" height="3.6" fill="#448C4A"/><path d="M675.14,271.11 L681.54,281.91 L668.74,281.91 Z" fill="#448C4A"/><rect x="677.73" y="310.84" width="16.2" height="3.6" fill="#448C4A"/><path d="M685.83,305.34 L692.23,316.14 L679.43,316.14 Z" fill="#448C4A"/><rect x="688.41" y="341.78" width="16.2" height="3.6" fill="#448C4A"/><path d="M696.51,336.28 L702.91,347.08 L690.11,347.08 Z" fill="#448C4A"/><rect x="699.10" y="367.80" width="16.2" height="3.6" fill="#448C4A"/><path d="M707.20,362.30 L713.60,373.10 L700.80,373.10 Z" fill="#448C4A"/><rect x="709.79" y="376.94" width="16.2" height="3.6" fill="#448C4A"/><path d="M717.89,371.44 L724.29,382.24 L711.49,382.24 Z" fill="#448C4A"/><rect x="720.48" y="362.40" width="16.2" height="3.6" fill="#448C4A"/><path d="M728.58,356.90 L734.98,367.70 L722.18,367.70 Z" fill="#448C4A"/><rect x="731.16" y="333.34" width="16.2" height="3.6" fill="#448C4A"/><path d="M739.26,327.84 L745.66,338.64 L732.86,338.64 Z" fill="#448C4A"/><rect x="741.85" y="295.37" width="16.2" height="3.6" fill="#448C4A"/><path d="M749.95,289.87 L756.35,300.67 L743.55,300.67 Z" fill="#448C4A"/><rect x="752.54" y="268.41" width="16.2" height="3.6" fill="#448C4A"/><path d="M760.64,262.91 L767.04,273.71 L754.24,273.71 Z" fill="#448C4A"/><rect x="763.22" y="260.21" width="16.2" height="3.6" fill="#448C4A"/><path d="M771.32,254.71 L777.72,265.51 L764.92,265.51 Z" fill="#448C4A"/><rect x="773.91" y="275.44" width="16.2" height="3.6" fill="#448C4A"/><path d="M782.01,269.94 L788.41,280.74 L775.61,280.74 Z" fill="#448C4A"/><rect x="784.60" y="302.16" width="16.2" height="3.6" fill="#448C4A"/><path d="M792.70,296.66 L799.10,307.46 L786.30,307.46 Z" fill="#448C4A"/>
<path d="M461.40,491.48 L472.09,487.03 L482.77,473.90 L493.46,452.10 L504.15,426.09 L514.84,383.43 L525.52,348.73 L536.21,310.06 L546.90,279.82 L557.58,262.71 L568.27,261.77 L578.96,279.35 L589.64,313.57 L600.33,339.12 L611.02,370.06 L621.70,389.52 L632.39,388.82 L643.08,375.46 L653.77,343.11 L664.45,309.59 L675.14,283.81 L685.83,267.40 L696.51,269.04 L707.20,288.96 L717.89,312.87 L728.58,343.81 L739.26,366.31 L749.95,375.92 L760.64,370.30 L771.32,346.86 L782.01,313.11 L792.70,287.56" fill="none" stroke="#3E52A8" stroke-width="3" stroke-dasharray="12 7 3 7" stroke-linejoin="round"/>
<rect x="453.30" y="489.28" width="16.2" height="4.4" fill="#3E52A8"/><circle cx="461.40" cy="491.48" r="5.8" fill="#3E52A8"/><rect x="463.99" y="484.83" width="16.2" height="4.4" fill="#3E52A8"/><circle cx="472.09" cy="487.03" r="5.8" fill="#3E52A8"/><rect x="474.67" y="471.70" width="16.2" height="4.4" fill="#3E52A8"/><circle cx="482.77" cy="473.90" r="5.8" fill="#3E52A8"/><rect x="485.36" y="449.90" width="16.2" height="4.4" fill="#3E52A8"/><circle cx="493.46" cy="452.10" r="5.8" fill="#3E52A8"/><rect x="496.05" y="423.89" width="16.2" height="4.4" fill="#3E52A8"/><circle cx="504.15" cy="426.09" r="5.8" fill="#3E52A8"/><rect x="506.74" y="381.23" width="16.2" height="4.4" fill="#3E52A8"/><circle cx="514.84" cy="383.43" r="5.8" fill="#3E52A8"/><rect x="517.42" y="346.53" width="16.2" height="4.4" fill="#3E52A8"/><circle cx="525.52" cy="348.73" r="5.8" fill="#3E52A8"/><rect x="528.11" y="307.86" width="16.2" height="4.4" fill="#3E52A8"/><circle cx="536.21" cy="310.06" r="5.8" fill="#3E52A8"/><rect x="538.80" y="277.62" width="16.2" height="4.4" fill="#3E52A8"/><circle cx="546.90" cy="279.82" r="5.8" fill="#3E52A8"/><rect x="549.48" y="260.51" width="16.2" height="4.4" fill="#3E52A8"/><circle cx="557.58" cy="262.71" r="5.8" fill="#3E52A8"/><rect x="560.17" y="259.57" width="16.2" height="4.4" fill="#3E52A8"/><circle cx="568.27" cy="261.77" r="5.8" fill="#3E52A8"/><rect x="570.86" y="277.15" width="16.2" height="4.4" fill="#3E52A8"/><circle cx="578.96" cy="279.35" r="5.8" fill="#3E52A8"/><rect x="581.54" y="311.37" width="16.2" height="4.4" fill="#3E52A8"/><circle cx="589.64" cy="313.57" r="5.8" fill="#3E52A8"/><rect x="592.23" y="336.92" width="16.2" height="4.4" fill="#3E52A8"/><circle cx="600.33" cy="339.12" r="5.8" fill="#3E52A8"/><rect x="602.92" y="367.86" width="16.2" height="4.4" fill="#3E52A8"/><circle cx="611.02" cy="370.06" r="5.8" fill="#3E52A8"/><rect x="613.60" y="387.32" width="16.2" height="4.4" fill="#3E52A8"/><circle cx="621.70" cy="389.52" r="5.8" fill="#3E52A8"/><rect x="624.29" y="386.62" width="16.2" height="4.4" fill="#3E52A8"/><circle cx="632.39" cy="388.82" r="5.8" fill="#3E52A8"/><rect x="634.98" y="373.26" width="16.2" height="4.4" fill="#3E52A8"/><circle cx="643.08" cy="375.46" r="5.8" fill="#3E52A8"/><rect x="645.67" y="340.91" width="16.2" height="4.4" fill="#3E52A8"/><circle cx="653.77" cy="343.11" r="5.8" fill="#3E52A8"/><rect x="656.35" y="307.39" width="16.2" height="4.4" fill="#3E52A8"/><circle cx="664.45" cy="309.59" r="5.8" fill="#3E52A8"/><rect x="667.04" y="281.61" width="16.2" height="4.4" fill="#3E52A8"/><circle cx="675.14" cy="283.81" r="5.8" fill="#3E52A8"/><rect x="677.73" y="265.20" width="16.2" height="4.4" fill="#3E52A8"/><circle cx="685.83" cy="267.40" r="5.8" fill="#3E52A8"/><rect x="688.41" y="266.84" width="16.2" height="4.4" fill="#3E52A8"/><circle cx="696.51" cy="269.04" r="5.8" fill="#3E52A8"/><rect x="699.10" y="286.76" width="16.2" height="4.4" fill="#3E52A8"/><circle cx="707.20" cy="288.96" r="5.8" fill="#3E52A8"/><rect x="709.79" y="310.67" width="16.2" height="4.4" fill="#3E52A8"/><circle cx="717.89" cy="312.87" r="5.8" fill="#3E52A8"/><rect x="720.48" y="341.61" width="16.2" height="4.4" fill="#3E52A8"/><circle cx="728.58" cy="343.81" r="5.8" fill="#3E52A8"/><rect x="731.16" y="364.11" width="16.2" height="4.4" fill="#3E52A8"/><circle cx="739.26" cy="366.31" r="5.8" fill="#3E52A8"/><rect x="741.85" y="373.72" width="16.2" height="4.4" fill="#3E52A8"/><circle cx="749.95" cy="375.92" r="5.8" fill="#3E52A8"/><rect x="752.54" y="368.10" width="16.2" height="4.4" fill="#3E52A8"/><circle cx="760.64" cy="370.30" r="5.8" fill="#3E52A8"/><rect x="763.22" y="344.66" width="16.2" height="4.4" fill="#3E52A8"/><circle cx="771.32" cy="346.86" r="5.8" fill="#3E52A8"/><rect x="773.91" y="310.91" width="16.2" height="4.4" fill="#3E52A8"/><circle cx="782.01" cy="313.11" r="5.8" fill="#3E52A8"/><rect x="784.60" y="285.36" width="16.2" height="4.4" fill="#3E52A8"/><circle cx="792.70" cy="287.56" r="5.8" fill="#3E52A8"/>
</g>
<rect x="445.6" y="2.45" width="352.4" height="248.75" stroke="#000" stroke-width="2.5" fill="none" stroke-linejoin="round"/>
<rect x="445.8" y="253.2" width="352.2" height="248.2" stroke="#000" stroke-width="2.5" fill="none" stroke-linejoin="round"/>
<path d="M450.71,2.45 L450.71,9.75 M450.71,251.2 L450.71,243.90 M461.40,2.45 L461.40,17.75 M461.40,251.2 L461.40,235.90 M472.09,2.45 L472.09,9.75 M472.09,251.2 L472.09,243.90 M482.77,2.45 L482.77,9.75 M482.77,251.2 L482.77,243.90 M493.46,2.45 L493.46,9.75 M493.46,251.2 L493.46,243.90 M504.15,2.45 L504.15,9.75 M504.15,251.2 L504.15,243.90 M514.84,2.45 L514.84,9.75 M514.84,251.2 L514.84,243.90 M525.52,2.45 L525.52,9.75 M525.52,251.2 L525.52,243.90 M536.21,2.45 L536.21,9.75 M536.21,251.2 L536.21,243.90 M546.90,2.45 L546.90,9.75 M546.90,251.2 L546.90,243.90 M557.58,2.45 L557.58,9.75 M557.58,251.2 L557.58,243.90 M568.27,2.45 L568.27,17.75 M568.27,251.2 L568.27,235.90 M578.96,2.45 L578.96,9.75 M578.96,251.2 L578.96,243.90 M589.64,2.45 L589.64,9.75 M589.64,251.2 L589.64,243.90 M600.33,2.45 L600.33,9.75 M600.33,251.2 L600.33,243.90 M611.02,2.45 L611.02,9.75 M611.02,251.2 L611.02,243.90 M621.70,2.45 L621.70,9.75 M621.70,251.2 L621.70,243.90 M632.39,2.45 L632.39,9.75 M632.39,251.2 L632.39,243.90 M643.08,2.45 L643.08,9.75 M643.08,251.2 L643.08,243.90 M653.77,2.45 L653.77,9.75 M653.77,251.2 L653.77,243.90 M664.45,2.45 L664.45,9.75 M664.45,251.2 L664.45,243.90 M675.14,2.45 L675.14,17.75 M675.14,251.2 L675.14,235.90 M685.83,2.45 L685.83,9.75 M685.83,251.2 L685.83,243.90 M696.51,2.45 L696.51,9.75 M696.51,251.2 L696.51,243.90 M707.20,2.45 L707.20,9.75 M707.20,251.2 L707.20,243.90 M717.89,2.45 L717.89,9.75 M717.89,251.2 L717.89,243.90 M728.58,2.45 L728.58,9.75 M728.58,251.2 L728.58,243.90 M739.26,2.45 L739.26,9.75 M739.26,251.2 L739.26,243.90 M749.95,2.45 L749.95,9.75 M749.95,251.2 L749.95,243.90 M760.64,2.45 L760.64,9.75 M760.64,251.2 L760.64,243.90 M771.32,2.45 L771.32,9.75 M771.32,251.2 L771.32,243.90 M782.01,2.45 L782.01,17.75 M782.01,251.2 L782.01,235.90 M792.70,2.45 L792.70,9.75 M792.70,251.2 L792.70,243.90 M450.71,253.2 L450.71,260.50 M450.71,501.4 L450.71,494.10 M461.40,253.2 L461.40,268.50 M461.40,501.4 L461.40,486.10 M472.09,253.2 L472.09,260.50 M472.09,501.4 L472.09,494.10 M482.77,253.2 L482.77,260.50 M482.77,501.4 L482.77,494.10 M493.46,253.2 L493.46,260.50 M493.46,501.4 L493.46,494.10 M504.15,253.2 L504.15,260.50 M504.15,501.4 L504.15,494.10 M514.84,253.2 L514.84,260.50 M514.84,501.4 L514.84,494.10 M525.52,253.2 L525.52,260.50 M525.52,501.4 L525.52,494.10 M536.21,253.2 L536.21,260.50 M536.21,501.4 L536.21,494.10 M546.90,253.2 L546.90,260.50 M546.90,501.4 L546.90,494.10 M557.58,253.2 L557.58,260.50 M557.58,501.4 L557.58,494.10 M568.27,253.2 L568.27,268.50 M568.27,501.4 L568.27,486.10 M578.96,253.2 L578.96,260.50 M578.96,501.4 L578.96,494.10 M589.64,253.2 L589.64,260.50 M589.64,501.4 L589.64,494.10 M600.33,253.2 L600.33,260.50 M600.33,501.4 L600.33,494.10 M611.02,253.2 L611.02,260.50 M611.02,501.4 L611.02,494.10 M621.70,253.2 L621.70,260.50 M621.70,501.4 L621.70,494.10 M632.39,253.2 L632.39,260.50 M632.39,501.4 L632.39,494.10 M643.08,253.2 L643.08,260.50 M643.08,501.4 L643.08,494.10 M653.77,253.2 L653.77,260.50 M653.77,501.4 L653.77,494.10 M664.45,253.2 L664.45,260.50 M664.45,501.4 L664.45,494.10 M675.14,253.2 L675.14,268.50 M675.14,501.4 L675.14,486.10 M685.83,253.2 L685.83,260.50 M685.83,501.4 L685.83,494.10 M696.51,253.2 L696.51,260.50 M696.51,501.4 L696.51,494.10 M707.20,253.2 L707.20,260.50 M707.20,501.4 L707.20,494.10 M717.89,253.2 L717.89,260.50 M717.89,501.4 L717.89,494.10 M728.58,253.2 L728.58,260.50 M728.58,501.4 L728.58,494.10 M739.26,253.2 L739.26,260.50 M739.26,501.4 L739.26,494.10 M749.95,253.2 L749.95,260.50 M749.95,501.4 L749.95,494.10 M760.64,253.2 L760.64,260.50 M760.64,501.4 L760.64,494.10 M771.32,253.2 L771.32,260.50 M771.32,501.4 L771.32,494.10 M782.01,253.2 L782.01,268.50 M782.01,501.4 L782.01,486.10 M792.70,253.2 L792.70,260.50 M792.70,501.4 L792.70,494.10 M445.6,243.30 L461.6,243.30 M798.0,243.30 L782.0,243.30 M445.6,219.93 L453.6,219.93 M798.0,219.93 L790.0,219.93 M445.6,196.56 L461.6,196.56 M798.0,196.56 L782.0,196.56 M445.6,173.19 L453.6,173.19 M798.0,173.19 L790.0,173.19 M445.6,149.82 L461.6,149.82 M798.0,149.82 L782.0,149.82 M445.6,126.45 L453.6,126.45 M798.0,126.45 L790.0,126.45 M445.6,103.08 L461.6,103.08 M798.0,103.08 L782.0,103.08 M445.6,79.71 L453.6,79.71 M798.0,79.71 L790.0,79.71 M445.6,56.34 L461.6,56.34 M798.0,56.34 L782.0,56.34 M445.6,32.97 L453.6,32.97 M798.0,32.97 L790.0,32.97 M445.6,9.60 L461.6,9.60 M798.0,9.60 L782.0,9.60 M445.6,495.00 L461.6,495.00 M798.0,495.00 L782.0,495.00 M445.6,471.56 L453.6,471.56 M798.0,471.56 L790.0,471.56 M445.6,448.12 L461.6,448.12 M798.0,448.12 L782.0,448.12 M445.6,424.68 L453.6,424.68 M798.0,424.68 L790.0,424.68 M445.6,401.24 L461.6,401.24 M798.0,401.24 L782.0,401.24 M445.6,377.80 L453.6,377.80 M798.0,377.80 L790.0,377.80 M445.6,354.36 L461.6,354.36 M798.0,354.36 L782.0,354.36 M445.6,330.92 L453.6,330.92 M798.0,330.92 L790.0,330.92 M445.6,307.48 L461.6,307.48 M798.0,307.48 L782.0,307.48 M445.6,284.04 L453.6,284.04 M798.0,284.04 L790.0,284.04 M445.6,260.60 L461.6,260.60 M798.0,260.60 L782.0,260.60" stroke="#000" stroke-width="2.3" fill="none"/>
<text transform="translate(72.2,22.4) scale(1,1.06)" font-size="31" text-anchor="end" letter-spacing="0.4">1.0</text>
<text transform="translate(72.2,73.4) scale(1,1.06)" font-size="31" text-anchor="end" letter-spacing="0.4">0.5</text>
<text transform="translate(72.2,127.0) scale(1,1.06)" font-size="31" text-anchor="end" letter-spacing="0.4">0.0</text>
<text transform="translate(72.2,147.8) scale(1,1.06)" font-size="31" text-anchor="end" letter-spacing="0.4">1.0</text>
<text transform="translate(72.2,199.2) scale(1,1.06)" font-size="31" text-anchor="end" letter-spacing="0.4">0.5</text>
<text transform="translate(72.2,252.0) scale(1,1.06)" font-size="31" text-anchor="end" letter-spacing="0.4">0.0</text>
<text transform="translate(72.2,273.3) scale(1,1.06)" font-size="31" text-anchor="end" letter-spacing="0.4">1.0</text>
<text transform="translate(72.2,324.6) scale(1,1.06)" font-size="31" text-anchor="end" letter-spacing="0.4">0.5</text>
<text transform="translate(72.2,377.7) scale(1,1.06)" font-size="31" text-anchor="end" letter-spacing="0.4">0.0</text>
<text transform="translate(72.2,400.2) scale(1,1.06)" font-size="31" text-anchor="end" letter-spacing="0.4">1.0</text>
<text transform="translate(72.2,450.8) scale(1,1.06)" font-size="31" text-anchor="end" letter-spacing="0.4">0.5</text>
<text transform="translate(72.2,504.3) scale(1,1.06)" font-size="31" text-anchor="end" letter-spacing="0.4">0.0</text>
<text transform="translate(81.7,526.5) scale(1,1.06)" font-size="31" text-anchor="middle" >0</text>
<text transform="translate(138.2,526.5) scale(1,1.06)" font-size="31" text-anchor="middle" letter-spacing="2.2">20</text>
<text transform="translate(193.6,526.5) scale(1,1.06)" font-size="31" text-anchor="middle" letter-spacing="2.2">40</text>
<text transform="translate(249.1,526.5) scale(1,1.06)" font-size="31" text-anchor="middle" letter-spacing="2.2">60</text>
<text transform="translate(304.5,526.5) scale(1,1.06)" font-size="31" text-anchor="middle" letter-spacing="2.2">80</text>
<text transform="translate(357.90000000000003,523.9) scale(1,1.06)" font-size="31" text-anchor="middle" letter-spacing="-0.8">100</text>
<text transform="translate(443.2,250.4) scale(1,1.06)" font-size="31" text-anchor="end" letter-spacing="0.8">0.0</text>
<text transform="translate(443.2,209.8) scale(1,1.06)" font-size="31" text-anchor="end" letter-spacing="0.8">0.2</text>
<text transform="translate(443.2,163.0) scale(1,1.06)" font-size="31" text-anchor="end" letter-spacing="0.8">0.4</text>
<text transform="translate(443.2,116.3) scale(1,1.06)" font-size="31" text-anchor="end" letter-spacing="0.8">0.6</text>
<text transform="translate(443.2,69.5) scale(1,1.06)" font-size="31" text-anchor="end" letter-spacing="0.8">0.8</text>
<text transform="translate(443.2,22.1) scale(1,1.06)" font-size="31" text-anchor="end" letter-spacing="0.8">1.0</text>
<text transform="translate(443.2,502.8) scale(1,1.06)" font-size="31" text-anchor="end" letter-spacing="0.8">0.0</text>
<text transform="translate(443.2,460.1) scale(1,1.06)" font-size="31" text-anchor="end" letter-spacing="0.8">0.2</text>
<text transform="translate(443.2,413.2) scale(1,1.06)" font-size="31" text-anchor="end" letter-spacing="0.8">0.4</text>
<text transform="translate(443.2,366.4) scale(1,1.06)" font-size="31" text-anchor="end" letter-spacing="0.8">0.6</text>
<text transform="translate(443.2,319.5) scale(1,1.06)" font-size="31" text-anchor="end" letter-spacing="0.8">0.8</text>
<text transform="translate(443.2,275.0) scale(1,1.06)" font-size="31" text-anchor="end" letter-spacing="0.8">1.0</text>
<text transform="translate(462.0,527.0) scale(1,1.06)" font-size="31" text-anchor="middle" >0.0</text>
<text transform="translate(568.9,527.0) scale(1,1.06)" font-size="31" text-anchor="middle" >0.1</text>
<text transform="translate(675.7,527.0) scale(1,1.06)" font-size="31" text-anchor="middle" >0.2</text>
<text transform="translate(782.6,527.0) scale(1,1.06)" font-size="31" text-anchor="middle" >0.3</text>
<text x="86" y="70.9" font-size="28.5" text-anchor="start" fill="#3A50A5" >(a)</text>
<text x="86" y="196.1" font-size="28.5" text-anchor="start" fill="#3A50A5" >(b)</text>
<text x="86" y="321.1" font-size="28.5" text-anchor="start" fill="#3A50A5" >(c)</text>
<text x="86" y="446.1" font-size="28.5" text-anchor="start" fill="#3A50A5" >(d)</text>
<text x="470.5" y="44" font-size="28.5" text-anchor="start" fill="#3A50A5" >(e)</text>
<text x="472" y="298.2" font-size="28.5" text-anchor="start" fill="#3A50A5" >(f)</text>
<text x="196.3" y="551" font-size="33" textLength="63.5" lengthAdjust="spacingAndGlyphs"><tspan font-style="italic">t</tspan>(ns)</text>
<text x="580.8" y="549" font-size="33" textLength="74.6" lengthAdjust="spacingAndGlyphs"><tspan font-style="italic">τ</tspan> (<tspan font-style="italic">μ</tspan>s)</text>
<text transform="translate(22,322.5) rotate(-90)" font-size="32.5" stroke="#000" stroke-width="0.45">Ω</text>
<text transform="translate(30.1,299.3) rotate(-90)" font-size="26" font-style="italic">ℓ</text>
<text transform="translate(21,284.9) rotate(-90)" font-size="30" >(</text>
<text transform="translate(21.7,274.2) rotate(-90)" font-size="31" font-style="italic">t</text>
<text transform="translate(21,264.6) rotate(-90)" font-size="30" >)</text>
<text transform="translate(26.8,251.5) rotate(-90)" font-size="39" >/</text>
<text transform="translate(22,240.5) rotate(-90)" font-size="32.5" stroke="#000" stroke-width="0.45">Ω</text>
<text transform="translate(27,216.1) rotate(-90)" font-size="22.4" >max</text>
<text transform="translate(393.5,191.4) rotate(-90) scale(1.3,1)" font-size="30.5" style="font-family:&quot;DejaVu Sans&quot;,sans-serif" stroke="#000" stroke-width="0.3">ℰ</text>
<text transform="translate(392,167.5) rotate(-90)" font-size="30" >(</text>
<text transform="translate(393,158.0) rotate(-90)" font-size="31" font-style="italic">t</text>
<text transform="translate(392,148.4) rotate(-90)" font-size="30" >)</text>
<text transform="translate(397.5,134.9) rotate(-90) scale(0.8,1)" font-size="39" >/</text>
<text transform="translate(393.5,126.8) rotate(-90) scale(1.3,1)" font-size="30.5" style="font-family:&quot;DejaVu Sans&quot;,sans-serif" stroke="#000" stroke-width="0.3">ℰ</text>
<text transform="translate(398.3,104.2) rotate(-90)" font-size="22.1" >max</text>
<text transform="translate(393.5,442.70000000000005) rotate(-90) scale(1.3,1)" font-size="30.5" style="font-family:&quot;DejaVu Sans&quot;,sans-serif" stroke="#000" stroke-width="0.3">ℰ</text>
<text transform="translate(392,418.8) rotate(-90)" font-size="30" >(</text>
<text transform="translate(393,409.3) rotate(-90)" font-size="31" font-style="italic">t</text>
<text transform="translate(392,399.70000000000005) rotate(-90)" font-size="30" >)</text>
<text transform="translate(397.5,386.20000000000005) rotate(-90) scale(0.8,1)" font-size="39" >/</text>
<text transform="translate(393.5,378.1) rotate(-90) scale(1.3,1)" font-size="30.5" style="font-family:&quot;DejaVu Sans&quot;,sans-serif" stroke="#000" stroke-width="0.3">ℰ</text>
<text transform="translate(398.3,355.5) rotate(-90)" font-size="22.1" >max</text>
<text transform="translate(346.5,484.4) rotate(-90) scale(0.919,1)" font-size="28.2" font-weight="bold">Charged</text>
<rect x="645.40" y="116.20" width="10.2" height="10.2" fill="#CC2229"/>
<text x="660.8" y="127.1" font-size="27" text-anchor="start" fill="#000" textLength="109.7" lengthAdjust="spacingAndGlyphs" >Stable (a)</text>
<path d="M650.50,148.40 L656.80,154.70 L650.50,161.00 L644.20,154.70 Z" fill="#A64DA3"/>
<text x="660.8" y="160.9" font-size="27" text-anchor="start" fill="#000" textLength="109.7" lengthAdjust="spacingAndGlyphs" >Stable (b)</text>
<circle cx="650.50" cy="188.40" r="5.8" fill="#3E52A8"/>
<text x="660.8" y="194.0" font-size="27" text-anchor="start" fill="#000" textLength="109.7" lengthAdjust="spacingAndGlyphs" >Stable (c)</text>
<path d="M650.50,215.70 L656.90,226.50 L644.10,226.50 Z" fill="#448C4A"/>
<text x="660.8" y="227.4" font-size="27" text-anchor="start" fill="#000" textLength="109.7" lengthAdjust="spacingAndGlyphs" >Stable (d)</text>
<rect x="531.60" y="424.60" width="10.2" height="10.2" fill="#CC2229"/>
<text x="548.8" y="436.1" font-size="27" text-anchor="start" fill="#000" textLength="98.8" lengthAdjust="spacingAndGlyphs" >Unst. (a)</text>
<path d="M536.70,456.20 L543.00,462.50 L536.70,468.80 L530.40,462.50 Z" fill="#A64DA3"/>
<text x="548.2" y="471.2" font-size="27" text-anchor="start" fill="#000" textLength="99.5" lengthAdjust="spacingAndGlyphs" >Unst. (b)</text>
<circle cx="667.60" cy="430.00" r="5.8" fill="#3E52A8"/>
<text x="680.5" y="436.6" font-size="27" text-anchor="start" fill="#000" textLength="97.5" lengthAdjust="spacingAndGlyphs" >Unst. (c)</text>
<path d="M667.60,458.50 L674.00,469.30 L661.20,469.30 Z" fill="#448C4A"/>
<text x="679.2" y="470.8" font-size="27" text-anchor="start" fill="#000" textLength="100" lengthAdjust="spacingAndGlyphs" >Unst. (d)</text>
</svg>
</body></html>
